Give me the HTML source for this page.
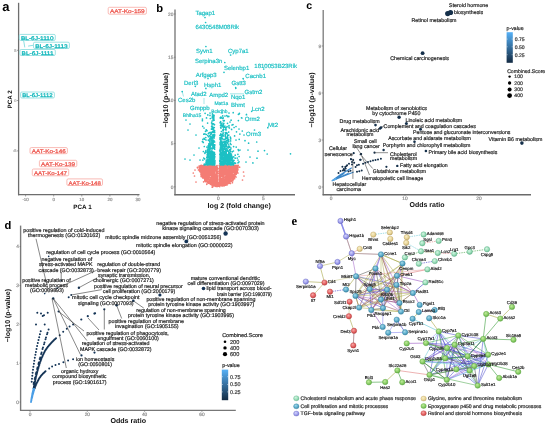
<!DOCTYPE html>
<html><head><meta charset="utf-8"><style>html,body{margin:0;padding:0;background:#fff;width:550px;height:426px;overflow:hidden}svg{display:block}text{font-family:"Liberation Sans",Arial,sans-serif;text-rendering:geometricPrecision}</style></head>
<body><svg width="550" height="426" viewBox="0 0 550 426">
<rect width="550" height="426" fill="#fff"/>
<text x="2.3" y="10.8" font-size="13" font-weight="bold" fill="#000">a</text>
<line x1="18.6" y1="2.8" x2="18.6" y2="195.3" stroke="#6e6e6e" stroke-width="1.3"/>
<line x1="18.0" y1="194.7" x2="139.5" y2="194.7" stroke="#6e6e6e" stroke-width="1.3"/>
<text x="16.4" y="51.7" font-size="3.9" text-anchor="end" fill="#a0a0a0" stroke="#a0a0a0" stroke-width="0.18">5</text>
<line x1="16.9" y1="50.3" x2="18.3" y2="50.3" stroke="#686868" stroke-width="0.6"/>
<text x="16.4" y="101.9" font-size="3.9" text-anchor="end" fill="#a0a0a0" stroke="#a0a0a0" stroke-width="0.18">0</text>
<line x1="16.9" y1="100.5" x2="18.3" y2="100.5" stroke="#686868" stroke-width="0.6"/>
<text x="16.4" y="152.3" font-size="3.9" text-anchor="end" fill="#a0a0a0" stroke="#a0a0a0" stroke-width="0.18">-5</text>
<line x1="16.9" y1="150.9" x2="18.3" y2="150.9" stroke="#686868" stroke-width="0.6"/>
<line x1="25.6" y1="195.0" x2="25.6" y2="196.5" stroke="#686868" stroke-width="0.6"/>
<text x="25.6" y="200.7" font-size="4.4" text-anchor="middle" fill="#8e8e8e" stroke="#8e8e8e" stroke-width="0.18">-10</text>
<line x1="53.7" y1="195.0" x2="53.7" y2="196.5" stroke="#686868" stroke-width="0.6"/>
<text x="53.7" y="200.7" font-size="4.4" text-anchor="middle" fill="#8e8e8e" stroke="#8e8e8e" stroke-width="0.18">0</text>
<line x1="81.8" y1="195.0" x2="81.8" y2="196.5" stroke="#686868" stroke-width="0.6"/>
<text x="81.8" y="200.7" font-size="4.4" text-anchor="middle" fill="#8e8e8e" stroke="#8e8e8e" stroke-width="0.18">10</text>
<line x1="109.9" y1="195.0" x2="109.9" y2="196.5" stroke="#686868" stroke-width="0.6"/>
<text x="109.9" y="200.7" font-size="4.4" text-anchor="middle" fill="#8e8e8e" stroke="#8e8e8e" stroke-width="0.18">20</text>
<line x1="138.0" y1="195.0" x2="138.0" y2="196.5" stroke="#686868" stroke-width="0.6"/>
<text x="138.0" y="200.7" font-size="4.4" text-anchor="middle" fill="#8e8e8e" stroke="#8e8e8e" stroke-width="0.18">30</text>
<text x="82.5" y="208.6" font-size="6.3" text-anchor="middle" font-weight="bold" fill="#111">PCA 1</text>
<text transform="translate(9.8,99.4) rotate(-90)" x="0" y="2.27" font-size="6.3" font-weight="bold" text-anchor="middle" fill="#111">PCA 2</text>
<line x1="23.7" y1="40.9" x2="24.8" y2="47.4" stroke="#1cc0c4" stroke-width="0.5"/>
<line x1="28.1" y1="46.1" x2="33.2" y2="45.3" stroke="#1cc0c4" stroke-width="0.5"/>
<rect x="19.3" y="34.4" width="36.0" height="6.0" rx="1.3" fill="#fff" stroke="#7fd8da" stroke-width="0.75"/>
<text x="21.0" y="39.6" font-size="5.4" fill="#14b8bc" stroke="#14b8bc" stroke-width="0.3" textLength="32.6" lengthAdjust="spacingAndGlyphs">BL-6J-1110</text>
<rect x="33.5" y="42.2" width="35.9" height="6.3" rx="1.3" fill="#fff" stroke="#7fd8da" stroke-width="0.75"/>
<text x="35.2" y="47.7" font-size="5.4" fill="#14b8bc" stroke="#14b8bc" stroke-width="0.3" textLength="32.5" lengthAdjust="spacingAndGlyphs">BL-6J-1113</text>
<rect x="19.9" y="49.5" width="35.4" height="6.0" rx="1.3" fill="#fff" stroke="#7fd8da" stroke-width="0.75"/>
<text x="21.6" y="54.7" font-size="5.4" fill="#14b8bc" stroke="#14b8bc" stroke-width="0.3" textLength="32.0" lengthAdjust="spacingAndGlyphs">BL-6J-1111</text>
<rect x="20.6" y="92.0" width="33.8" height="6.0" rx="1.3" fill="#fff" stroke="#7fd8da" stroke-width="0.75"/>
<text x="22.3" y="97.2" font-size="5.4" fill="#14b8bc" stroke="#14b8bc" stroke-width="0.3" textLength="30.4" lengthAdjust="spacingAndGlyphs">BL-6J-1112</text>
<rect x="30.0" y="147.6" width="37.4" height="6.1" rx="1.3" fill="#fff" stroke="#f7a49d" stroke-width="0.75"/>
<text x="31.7" y="152.9" font-size="5.4" fill="#ee5d55" stroke="#ee5d55" stroke-width="0.3" textLength="34.0" lengthAdjust="spacingAndGlyphs">AAT-Ko-146</text>
<rect x="39.4" y="160.3" width="37.4" height="6.4" rx="1.3" fill="#fff" stroke="#f7a49d" stroke-width="0.75"/>
<text x="41.1" y="165.9" font-size="5.4" fill="#ee5d55" stroke="#ee5d55" stroke-width="0.3" textLength="34.0" lengthAdjust="spacingAndGlyphs">AAT-Ko-139</text>
<rect x="32.3" y="169.0" width="36.4" height="6.8" rx="1.3" fill="#fff" stroke="#f7a49d" stroke-width="0.75"/>
<text x="34.0" y="175.0" font-size="5.4" fill="#ee5d55" stroke="#ee5d55" stroke-width="0.3" textLength="33.0" lengthAdjust="spacingAndGlyphs">AAT-Ko-147</text>
<rect x="66.9" y="178.9" width="35.6" height="6.6" rx="1.3" fill="#fff" stroke="#f7a49d" stroke-width="0.75"/>
<text x="68.6" y="184.7" font-size="5.4" fill="#ee5d55" stroke="#ee5d55" stroke-width="0.3" textLength="32.2" lengthAdjust="spacingAndGlyphs">AAT-Ko-148</text>
<rect x="108.2" y="7.3" width="38.2" height="6.9" rx="1.3" fill="#fff" stroke="#f7a49d" stroke-width="0.75"/>
<text x="109.9" y="13.4" font-size="5.4" fill="#ee5d55" stroke="#ee5d55" stroke-width="0.3" textLength="34.8" lengthAdjust="spacingAndGlyphs">AAT-Ko-159</text>
<text x="156.2" y="11.8" font-size="11.2" font-weight="bold" fill="#000">b</text>
<line x1="175.0" y1="9.5" x2="175.0" y2="195.3" stroke="#9a9a9a" stroke-width="1.8"/>
<line x1="174.3" y1="194.7" x2="295.0" y2="194.7" stroke="#6a6a6a" stroke-width="1.5"/>
<line x1="174.0" y1="186.8" x2="175.5" y2="186.8" stroke="#686868" stroke-width="0.6"/>
<text x="173.4" y="188.5" font-size="4.8" text-anchor="end" fill="#8c8c8c" stroke="#8c8c8c" stroke-width="0.18">0</text>
<line x1="174.0" y1="143.6" x2="175.5" y2="143.6" stroke="#686868" stroke-width="0.6"/>
<text x="173.4" y="145.3" font-size="4.8" text-anchor="end" fill="#8c8c8c" stroke="#8c8c8c" stroke-width="0.18">5</text>
<line x1="174.0" y1="100.4" x2="175.5" y2="100.4" stroke="#686868" stroke-width="0.6"/>
<text x="173.4" y="102.1" font-size="4.8" text-anchor="end" fill="#8c8c8c" stroke="#8c8c8c" stroke-width="0.18">10</text>
<line x1="174.0" y1="57.2" x2="175.5" y2="57.2" stroke="#686868" stroke-width="0.6"/>
<text x="173.4" y="58.9" font-size="4.8" text-anchor="end" fill="#8c8c8c" stroke="#8c8c8c" stroke-width="0.18">15</text>
<line x1="174.0" y1="14.0" x2="175.5" y2="14.0" stroke="#686868" stroke-width="0.6"/>
<text x="173.4" y="15.7" font-size="4.8" text-anchor="end" fill="#8c8c8c" stroke="#8c8c8c" stroke-width="0.18">20</text>
<line x1="218.3" y1="194.5" x2="218.3" y2="196.0" stroke="#686868" stroke-width="0.6"/>
<text x="218.3" y="200.4" font-size="4.8" text-anchor="middle" fill="#8c8c8c" stroke="#8c8c8c" stroke-width="0.18">0</text>
<line x1="263.3" y1="194.5" x2="263.3" y2="196.0" stroke="#686868" stroke-width="0.6"/>
<text x="263.3" y="200.4" font-size="4.8" text-anchor="middle" fill="#8c8c8c" stroke="#8c8c8c" stroke-width="0.18">5</text>
<text x="207.6" y="207.5" font-size="7" font-weight="bold" textLength="63.2" lengthAdjust="spacingAndGlyphs" fill="#111">log 2 (fold change)</text>
<text transform="translate(165.3,100.0) rotate(-90)" x="0" y="2.52" font-size="7" font-weight="bold" text-anchor="middle" textLength="55.0" lengthAdjust="spacingAndGlyphs" fill="#111">−log10 (p-value)</text>
<path d="M211.5 168.4h0M224.5 166.8h0M219.9 173.1h0M201.5 167.2h0M215.5 183.0h0M203.6 170.0h0M223.5 185.6h0M221.6 173.7h0M237.4 166.2h0M232.7 171.4h0M204.4 167.7h0M210.9 182.7h0M205.9 177.7h0M224.0 173.2h0M220.4 166.5h0M201.1 169.6h0M225.6 174.4h0M211.1 177.8h0M216.6 171.6h0M230.2 180.2h0M208.4 177.6h0M219.5 184.0h0M227.6 171.4h0M237.5 167.7h0M215.3 181.5h0M204.7 175.7h0M229.0 177.5h0M233.4 171.9h0M226.2 178.0h0M221.7 175.0h0M217.5 179.5h0M231.2 171.3h0M214.0 179.6h0M205.4 167.7h0M203.8 170.5h0M214.2 183.9h0M201.9 174.9h0M220.5 184.2h0M209.7 174.1h0M212.9 184.2h0M236.6 168.4h0M205.7 170.2h0M207.9 175.6h0M222.0 170.8h0M213.3 177.4h0M225.5 166.4h0M214.2 173.8h0M201.2 166.6h0M207.0 168.7h0M212.2 166.3h0M202.7 173.0h0M223.0 168.4h0M208.7 172.7h0M213.1 167.8h0M217.2 175.6h0M202.1 167.4h0M212.3 170.9h0M231.5 168.7h0M219.6 168.4h0M220.2 165.8h0M219.6 186.2h0M209.0 173.1h0M219.8 181.9h0M211.8 170.0h0M231.1 181.1h0M207.7 176.3h0M212.8 165.8h0M199.8 171.2h0M209.0 180.1h0M236.5 173.0h0M207.4 170.1h0M206.5 169.6h0M223.4 184.6h0M232.0 175.5h0M224.6 182.4h0M228.4 175.5h0M211.9 182.4h0M214.6 185.6h0M227.4 168.9h0M203.7 168.4h0M212.6 177.0h0M203.9 165.5h0M219.6 185.3h0M215.9 183.9h0M231.4 169.7h0M208.7 171.5h0M208.2 177.8h0M209.0 174.2h0M212.7 175.1h0M221.8 184.6h0M215.4 184.9h0M219.4 165.6h0M216.1 169.1h0M205.5 175.4h0M227.4 177.2h0M211.6 176.3h0M220.7 182.1h0M202.9 177.2h0M208.5 171.2h0M229.3 176.1h0M220.9 181.5h0M234.8 174.7h0M223.0 176.1h0M216.6 176.7h0M217.6 185.4h0M226.4 184.0h0M236.0 170.8h0M220.9 185.5h0M232.0 168.1h0M203.5 174.7h0M201.6 170.4h0M204.8 180.6h0M224.8 168.3h0M214.5 175.7h0M205.1 174.5h0M206.5 172.0h0M227.3 165.6h0M220.6 174.7h0M223.4 176.2h0M202.8 170.9h0M209.4 168.0h0M215.4 184.8h0M231.1 170.8h0M221.3 180.3h0M202.2 166.4h0M226.0 174.3h0M223.8 182.4h0M216.7 172.5h0M220.6 185.1h0M209.3 168.0h0M219.6 170.3h0M203.0 168.7h0M200.7 169.5h0M211.1 171.8h0M228.8 171.4h0M212.4 165.6h0M208.6 165.5h0M227.7 177.0h0M206.2 175.4h0M235.7 167.5h0M231.1 174.5h0M218.3 183.1h0M214.3 176.1h0M212.3 183.1h0M226.7 178.9h0M214.7 172.7h0M200.9 168.0h0M208.8 168.7h0M233.2 179.6h0M209.9 170.4h0M210.3 175.1h0M204.9 174.8h0M211.0 172.9h0M217.5 176.0h0M206.7 176.1h0M202.3 173.8h0M200.4 165.7h0M210.7 170.2h0M221.9 176.6h0M228.4 179.3h0M227.1 184.1h0M214.1 172.2h0M237.7 168.4h0M227.4 179.0h0M227.8 182.7h0M204.2 176.5h0M218.7 183.2h0M221.8 184.4h0M225.7 180.1h0M207.8 165.9h0M204.0 173.0h0M220.8 178.7h0M223.5 179.8h0M230.3 181.3h0M224.8 166.6h0M227.9 170.6h0M201.6 170.9h0M227.6 169.6h0M217.7 179.9h0M229.1 178.5h0M224.2 166.9h0M204.5 170.7h0M228.1 171.7h0M221.2 165.5h0M201.1 171.0h0M225.3 180.1h0M225.5 171.5h0M217.2 167.7h0M234.1 169.5h0M216.5 171.0h0M207.0 177.7h0M204.3 176.5h0M236.4 168.1h0M231.2 176.1h0M216.6 171.7h0M204.3 172.6h0M211.2 183.3h0M231.9 167.8h0M234.4 171.4h0M213.4 173.6h0M213.0 174.4h0M209.6 166.2h0M208.6 170.9h0M213.5 185.8h0M223.7 184.8h0M227.2 166.3h0M227.7 174.9h0M228.5 179.1h0M210.0 166.3h0M235.4 167.9h0M217.4 172.6h0M210.5 181.1h0M237.4 170.8h0M224.7 171.7h0M220.8 173.7h0M205.3 168.7h0M216.5 168.2h0M206.3 167.2h0M212.2 167.2h0M208.2 170.8h0M221.3 184.3h0M228.4 174.1h0M215.1 176.5h0M213.6 172.5h0M201.2 171.2h0M237.0 167.9h0M232.9 169.8h0M209.4 170.5h0M214.5 174.8h0M233.3 165.7h0M234.2 175.4h0M222.0 165.2h0M214.2 185.1h0M237.2 170.5h0M203.0 168.5h0M219.4 179.9h0M224.3 181.6h0M216.8 177.1h0M224.3 171.7h0M203.8 170.6h0M223.9 180.2h0M203.1 166.7h0M219.5 177.7h0M214.1 170.0h0M222.5 165.4h0M210.6 175.1h0M233.7 175.4h0M208.0 170.5h0M210.9 165.7h0M215.3 170.7h0M225.1 185.1h0M207.7 165.9h0M212.1 174.2h0M225.7 169.5h0M230.3 181.1h0M237.1 171.9h0M231.2 170.2h0M207.5 181.6h0M207.5 174.2h0M204.5 173.7h0M204.3 166.3h0M201.1 173.7h0M235.6 172.3h0M228.3 165.9h0M225.0 173.3h0M213.5 172.3h0M205.4 165.3h0M209.8 172.8h0M236.5 167.9h0M236.9 169.7h0M212.8 182.9h0M231.3 174.5h0M213.5 185.0h0M206.3 173.0h0M234.2 165.9h0M215.0 182.7h0M229.1 166.1h0M200.1 166.5h0M235.1 170.7h0M212.1 171.1h0M209.1 180.6h0M211.2 171.1h0M236.1 165.7h0M208.0 175.4h0M214.0 170.6h0M215.7 175.8h0M235.5 169.1h0M230.5 181.1h0M222.7 172.2h0M211.4 173.0h0M229.7 166.9h0M206.5 181.4h0M208.5 166.6h0M209.2 167.0h0M202.5 175.9h0M226.8 174.8h0M208.0 174.2h0M223.3 179.7h0M228.3 183.4h0M225.0 167.8h0M232.0 171.5h0M221.1 173.2h0M227.9 169.5h0M208.5 170.5h0M221.6 172.2h0M230.7 179.2h0M237.9 167.4h0M217.5 182.8h0M200.3 171.5h0M203.4 169.3h0M235.5 173.2h0M233.0 174.9h0M209.0 181.9h0M236.1 167.5h0M222.3 178.5h0M207.3 173.1h0M204.3 169.6h0M208.8 178.1h0M224.5 169.6h0M225.6 169.2h0M211.1 169.6h0M230.2 177.0h0M201.2 167.4h0M214.4 177.0h0M224.0 167.2h0M205.2 180.2h0M214.9 171.3h0M211.1 177.4h0M212.8 174.2h0M213.1 169.4h0M227.5 169.6h0M215.5 182.8h0M214.8 184.2h0M217.0 168.7h0M224.1 184.8h0M213.4 176.0h0M204.5 171.3h0M219.3 185.1h0M203.0 175.7h0M206.5 167.9h0M235.4 173.5h0M231.4 168.6h0M229.8 170.0h0M214.7 183.4h0M231.5 169.1h0M207.3 173.8h0M219.2 173.4h0M203.6 170.5h0M228.7 166.0h0M231.9 167.7h0M222.4 177.0h0M223.5 171.8h0M215.3 177.7h0M215.6 179.4h0M216.4 174.6h0M228.9 182.0h0M216.8 169.1h0M217.4 167.5h0M203.8 174.5h0M202.3 174.7h0M223.9 167.0h0M227.7 181.9h0M236.4 168.1h0M227.7 182.7h0M218.2 185.8h0M235.0 168.7h0M201.3 172.7h0M228.6 168.6h0M234.2 171.1h0M231.0 168.3h0M218.6 185.0h0M206.9 170.9h0M200.2 169.1h0M225.6 184.5h0M203.3 176.6h0M223.9 172.9h0M233.3 177.1h0M221.7 184.2h0M223.6 173.7h0M230.3 170.9h0M213.0 181.6h0M216.2 169.0h0M228.1 166.2h0M231.2 170.7h0M221.9 179.5h0M211.1 165.2h0M200.0 168.4h0M223.1 174.5h0M219.0 184.5h0M203.9 170.1h0M224.6 165.7h0M202.9 172.9h0M207.6 177.7h0M222.0 169.6h0M223.4 175.4h0M208.3 168.4h0M214.6 170.9h0M221.0 172.7h0M224.3 174.7h0M214.8 170.3h0M236.0 168.3h0M206.6 178.3h0M230.9 169.0h0M211.0 171.7h0M229.7 180.6h0M228.2 175.2h0M228.1 174.9h0M207.6 167.5h0M207.9 166.0h0M212.0 181.3h0M226.2 183.4h0M226.9 170.9h0M220.6 174.6h0M229.9 176.4h0M209.2 179.0h0M236.9 169.9h0M233.5 165.5h0M209.0 170.3h0M228.2 172.2h0M233.6 172.3h0M223.7 180.1h0M217.3 183.3h0M226.3 183.6h0M216.0 180.8h0M221.3 171.8h0M207.1 178.6h0M204.4 165.8h0M212.4 168.2h0M199.8 166.1h0M226.1 178.8h0M226.3 181.0h0M213.1 182.8h0M202.9 169.6h0M203.1 165.9h0M223.8 182.9h0M223.7 171.4h0M202.7 167.3h0M228.7 169.6h0M211.3 174.3h0M199.5 170.7h0M209.9 180.6h0M213.3 172.1h0M232.4 178.5h0M216.0 181.8h0M212.4 180.4h0M220.0 169.9h0M232.8 167.2h0M231.2 168.9h0M218.2 182.3h0M206.0 175.8h0M212.4 183.1h0M209.9 169.8h0M226.4 175.9h0M226.3 182.1h0M223.6 172.8h0M214.6 173.7h0M234.0 167.1h0M233.9 165.7h0M206.9 170.9h0M234.4 176.0h0M213.7 184.2h0M207.9 175.1h0M219.7 181.4h0M228.5 179.1h0M212.5 172.2h0M224.9 181.2h0M205.4 174.6h0M229.3 177.7h0M203.7 175.1h0M233.8 170.3h0M206.3 171.7h0M226.5 183.3h0M204.8 168.6h0M208.5 172.2h0M219.4 168.7h0M211.7 169.3h0M202.7 173.5h0M227.7 174.6h0M206.5 178.9h0M202.9 169.6h0M214.1 165.9h0M214.5 182.2h0M226.2 176.0h0M223.7 175.2h0M204.3 178.2h0M214.7 181.1h0M234.7 174.4h0M221.4 181.3h0M215.4 170.1h0M227.3 184.1h0M229.4 180.3h0M232.5 179.8h0M224.1 175.0h0M211.1 178.7h0M202.6 174.2h0M229.7 180.5h0M223.6 170.6h0M215.5 175.0h0M223.3 174.0h0M225.4 185.2h0M205.9 179.3h0M229.5 173.6h0M218.1 186.2h0M202.7 177.6h0M220.1 180.6h0M231.5 176.4h0M214.9 185.6h0M207.0 179.9h0M214.2 181.6h0M212.8 166.4h0M209.6 173.8h0M215.4 180.2h0M212.6 170.9h0M207.6 181.1h0M207.4 182.4h0M214.2 169.8h0M230.8 178.8h0M217.3 177.3h0M212.7 178.9h0M217.2 171.5h0M220.4 167.9h0M231.7 172.8h0M232.4 170.9h0M213.6 170.7h0M215.6 169.2h0M209.8 170.5h0M210.7 175.5h0M215.7 178.9h0M224.8 173.0h0M223.8 165.5h0M224.7 170.6h0M202.7 168.3h0M208.0 181.9h0M212.4 168.5h0M222.8 182.0h0M225.2 184.4h0M206.5 180.1h0M219.7 181.2h0M216.1 184.2h0M220.7 170.9h0M208.0 168.2h0M217.2 168.3h0M220.1 183.8h0M217.2 177.3h0M225.0 183.3h0M213.5 174.2h0M236.7 166.8h0M223.9 178.9h0M234.2 165.9h0M227.1 178.6h0M212.1 183.7h0M213.2 175.4h0M219.5 181.8h0M207.0 174.6h0M215.4 177.1h0M231.4 171.5h0M231.5 173.9h0M218.8 186.2h0M224.6 182.2h0M211.8 172.0h0M210.5 177.8h0M223.8 182.1h0M233.8 176.9h0M200.7 171.7h0M224.8 182.2h0M223.1 178.7h0M226.3 178.0h0M225.7 169.8h0M225.1 175.0h0M228.9 167.4h0M205.9 166.0h0M224.7 173.1h0M221.0 170.7h0M210.7 174.3h0M211.3 174.5h0M224.1 185.3h0M200.3 167.8h0M230.8 177.6h0M235.1 174.8h0M222.1 185.4h0M215.0 167.4h0M224.2 169.8h0M204.7 165.5h0M203.8 165.6h0M227.2 170.4h0M227.7 169.2h0M227.0 183.6h0M227.6 167.0h0M223.6 180.4h0M216.9 185.2h0M227.1 165.4h0M231.1 166.9h0M211.0 180.9h0M213.3 177.6h0M216.1 179.8h0M213.1 179.1h0M223.6 174.2h0M214.0 182.1h0M221.1 171.5h0M226.5 183.0h0M211.8 178.2h0M222.5 171.8h0M215.7 184.3h0M213.6 179.9h0M222.5 184.5h0M230.7 171.3h0M215.4 177.8h0M221.3 171.1h0M225.8 184.8h0M212.4 167.0h0M220.6 182.3h0M206.6 181.3h0M235.6 170.2h0M222.7 179.8h0M217.1 169.6h0M208.8 181.3h0M230.0 175.1h0M229.3 170.2h0M221.7 184.5h0M233.7 176.4h0M217.6 177.9h0M206.2 169.3h0M205.9 180.3h0M213.1 177.3h0M214.6 176.3h0M204.6 166.2h0M229.9 168.6h0M222.3 172.6h0M219.3 165.6h0M233.0 175.7h0M221.2 170.8h0M229.6 174.4h0M208.8 166.0h0M206.7 169.1h0M202.0 166.3h0M220.8 183.9h0M216.8 185.6h0M234.7 166.6h0M222.4 173.7h0M208.9 177.3h0M224.1 185.8h0M225.2 173.7h0M216.5 168.6h0M207.5 166.0h0M208.8 172.8h0M231.9 166.2h0M229.8 180.5h0M200.9 168.3h0M225.5 171.6h0M222.1 181.5h0M202.9 172.2h0M208.9 167.9h0M217.8 168.8h0M208.1 168.3h0M225.5 165.5h0M227.1 169.4h0M204.2 174.8h0M232.1 178.7h0M216.6 172.5h0M231.3 175.5h0M223.6 168.3h0M207.5 166.4h0M227.0 177.1h0M209.2 174.1h0M204.9 171.0h0M231.9 172.4h0M205.3 175.8h0M211.3 184.6h0M225.2 169.7h0M217.6 171.4h0M208.9 169.5h0M202.6 171.4h0M234.2 166.4h0M227.5 171.5h0M237.5 165.5h0M230.7 172.5h0M204.2 165.2h0M231.7 176.5h0M206.1 174.6h0M234.8 169.9h0M221.3 168.2h0M226.9 169.4h0M201.8 167.1h0M222.8 175.9h0M209.5 169.6h0M223.0 180.4h0M230.8 177.7h0M206.7 166.6h0M227.7 174.0h0M227.3 166.4h0M230.8 172.4h0M234.7 175.4h0M233.2 170.9h0M213.2 168.7h0M213.4 178.0h0M216.4 176.3h0M211.4 180.5h0M213.8 181.4h0M220.0 165.6h0M237.0 170.0h0M205.9 167.4h0M208.6 182.8h0M199.9 167.3h0M226.4 169.4h0M221.5 176.4h0M226.5 167.4h0M200.5 167.8h0M209.8 167.8h0M214.8 168.1h0M222.1 183.7h0M204.5 177.5h0M228.3 168.7h0M214.1 174.2h0M232.0 176.5h0M214.4 185.4h0M229.5 172.5h0M208.2 172.4h0M215.9 186.3h0M208.6 174.3h0M223.8 173.0h0M219.7 166.7h0M215.8 176.1h0M199.5 168.2h0M233.7 165.9h0M224.1 170.9h0M225.6 171.1h0M220.2 185.1h0M223.3 170.6h0M219.3 174.5h0M236.4 171.4h0M210.8 179.1h0M203.5 178.0h0M209.3 175.2h0M219.8 168.4h0M203.6 168.0h0M210.3 173.9h0M210.1 170.4h0M202.2 176.9h0M232.0 178.3h0M221.3 179.2h0M206.7 180.5h0M217.0 177.0h0M223.0 175.3h0M211.0 170.4h0M207.5 176.2h0M213.9 177.8h0M232.8 170.3h0M220.7 175.8h0M210.4 181.8h0M205.0 166.6h0M233.2 174.7h0M201.2 173.5h0M216.1 181.0h0M203.0 170.0h0M204.8 172.4h0M212.7 179.7h0M223.1 183.5h0M231.2 176.3h0M228.0 181.2h0M228.8 175.4h0M229.8 180.4h0M234.9 167.9h0M233.2 165.3h0M229.0 177.8h0M218.4 185.9h0M221.3 174.2h0M222.8 173.4h0M216.6 175.0h0M227.3 171.5h0M214.2 177.1h0M213.9 172.1h0M206.0 171.7h0M204.4 177.6h0M221.7 167.1h0M235.1 172.2h0M236.7 169.6h0M215.6 184.8h0M199.1 166.2h0M221.1 175.9h0M225.8 173.6h0M212.9 178.0h0M212.6 185.6h0M225.5 176.5h0M202.6 173.2h0M214.6 177.3h0M221.4 184.1h0M216.1 178.6h0M219.7 182.7h0M205.5 172.0h0M233.9 174.2h0M204.9 171.4h0M206.1 169.1h0M223.7 178.2h0M223.9 166.1h0M215.0 182.1h0M210.8 180.1h0M232.0 177.8h0M225.2 169.4h0M209.2 179.1h0M219.7 186.6h0M221.4 174.0h0M203.5 168.6h0M228.8 167.5h0M202.7 168.9h0M219.4 182.9h0M223.0 182.5h0M201.2 165.5h0M229.2 172.1h0M227.0 172.8h0M205.4 170.9h0M221.8 172.7h0M216.5 173.5h0M221.8 185.8h0M216.1 178.5h0M208.6 166.1h0M211.2 184.5h0M231.0 171.7h0M222.6 185.8h0M218.3 185.6h0M208.3 173.6h0M227.2 170.0h0M210.9 184.0h0M217.9 182.2h0M208.3 168.9h0M212.9 169.2h0M237.2 171.5h0M220.9 167.7h0M219.8 173.5h0M214.7 166.6h0M212.6 170.5h0M206.3 171.3h0M208.1 166.0h0M225.0 172.5h0M204.9 180.4h0M202.4 171.0h0M231.8 167.9h0M216.3 183.2h0M230.6 168.6h0M212.7 180.7h0M213.6 185.8h0M216.6 168.0h0M226.7 170.8h0M234.3 177.8h0M213.3 170.5h0M222.8 169.8h0M233.2 167.8h0M209.4 181.8h0M213.9 179.3h0M221.2 171.9h0M214.1 167.0h0M211.4 179.4h0M203.0 177.3h0M213.0 176.0h0M210.5 166.6h0M211.0 170.1h0M209.9 173.9h0M203.9 171.1h0M225.0 172.8h0M215.0 179.4h0M226.4 170.5h0M232.2 172.8h0M223.6 169.1h0M227.8 180.5h0M200.3 166.1h0M205.1 169.5h0M210.7 173.4h0M200.3 171.9h0M224.0 169.1h0M231.9 177.5h0M227.1 170.7h0M215.9 179.9h0M212.5 165.2h0M210.0 166.1h0M232.5 178.3h0M200.6 170.5h0M228.4 167.1h0M226.2 173.7h0M228.3 183.0h0M209.8 167.1h0M236.2 174.3h0M227.9 183.0h0M223.6 174.9h0M215.7 176.2h0M235.5 167.9h0M228.9 166.1h0M226.5 182.5h0M209.0 176.9h0M220.2 170.6h0M201.1 172.9h0M215.0 169.5h0M211.0 168.1h0M226.7 179.6h0M208.1 170.4h0M235.8 172.8h0M210.6 184.2h0M204.3 177.3h0M211.9 182.7h0M220.4 181.6h0M205.4 179.5h0M222.4 175.1h0M229.0 183.1h0M203.2 171.4h0M213.0 169.6h0M201.1 171.2h0M206.5 180.3h0M216.4 167.6h0M211.5 175.3h0M213.1 168.8h0M201.5 165.4h0M203.0 175.7h0M215.9 169.3h0M220.2 165.4h0M223.6 185.3h0M224.5 170.6h0M208.4 168.2h0M231.9 171.6h0M206.1 178.9h0M231.6 181.2h0M211.6 169.2h0M231.4 172.1h0M213.3 177.0h0M213.3 183.1h0M208.2 166.1h0M221.1 178.7h0M231.2 180.4h0M204.9 171.6h0M221.7 166.9h0M225.9 168.7h0M216.3 186.1h0M202.3 166.1h0M216.1 169.3h0M227.3 165.3h0M229.9 174.3h0M209.9 179.4h0M212.1 174.6h0M225.1 183.0h0M234.5 168.7h0M210.4 174.7h0M221.0 172.7h0M206.4 167.0h0M211.5 175.1h0M230.8 166.5h0M225.5 178.3h0M210.5 177.5h0M224.3 171.6h0M212.3 184.2h0M199.8 169.3h0M225.6 174.8h0M213.4 177.7h0M215.2 176.6h0M221.1 173.7h0M203.2 169.1h0M233.9 177.0h0M208.7 167.2h0M219.7 170.6h0M207.7 177.5h0M203.2 176.2h0M222.0 166.9h0M214.9 166.8h0M216.1 183.8h0M220.5 180.6h0M228.7 167.7h0M214.2 168.9h0M229.4 168.1h0M229.4 166.4h0M208.1 173.2h0M207.1 171.6h0M226.7 174.4h0M233.9 178.6h0M233.2 177.3h0M205.4 181.2h0M212.2 181.6h0M225.6 183.0h0M203.6 173.2h0M227.3 166.1h0M222.6 167.3h0M220.4 182.5h0M225.4 170.7h0M206.3 174.8h0M231.9 177.7h0M203.2 165.7h0M206.0 177.1h0M210.2 180.0h0M213.8 168.3h0M233.4 176.8h0M226.0 182.6h0M236.3 165.5h0M212.3 168.4h0M218.6 184.0h0M230.4 166.0h0M225.6 173.6h0M217.5 168.6h0M232.2 173.7h0M233.3 178.3h0M201.7 172.3h0M222.0 166.1h0M205.4 173.0h0M217.2 177.6h0M214.1 172.8h0M211.9 165.6h0M216.9 186.4h0M200.5 168.3h0M225.3 171.1h0M209.5 176.0h0M209.1 177.4h0M219.6 185.8h0M238.0 165.9h0M220.9 181.8h0M223.8 178.8h0M213.1 171.3h0M210.7 181.6h0M228.0 176.1h0M223.9 172.7h0M220.5 173.9h0M201.1 172.5h0M217.8 173.1h0M208.3 170.2h0M212.5 168.1h0M216.6 174.8h0M221.2 171.7h0M205.4 166.6h0M210.6 171.8h0M227.5 177.1h0M235.8 172.5h0M201.9 169.0h0M212.8 181.9h0M215.7 183.9h0M201.4 175.6h0M234.3 171.1h0M208.9 165.7h0M205.2 171.0h0M226.6 169.9h0M214.5 169.5h0M222.6 183.8h0M224.4 169.4h0M222.5 166.9h0M212.2 168.1h0M206.2 176.7h0M233.4 179.0h0M235.2 169.8h0M211.6 181.3h0M224.4 173.9h0M225.6 172.5h0M201.0 174.1h0M211.9 175.8h0M222.4 170.7h0M217.0 165.5h0M237.8 166.4h0M223.0 180.8h0M211.7 167.2h0M204.9 168.3h0M229.1 167.1h0M230.9 174.3h0M220.0 177.9h0M220.7 179.3h0M222.5 172.3h0M228.0 170.7h0M226.9 181.6h0M229.4 171.8h0M216.6 171.2h0M219.4 185.4h0M203.9 165.4h0M217.5 179.3h0M229.4 173.0h0M228.7 167.1h0M199.8 168.1h0M220.7 169.1h0M235.9 173.1h0M204.6 169.0h0M205.1 165.8h0M229.5 170.4h0M223.9 172.6h0M230.4 175.1h0M211.5 184.6h0M214.6 183.8h0M214.9 185.0h0M207.6 170.6h0M209.1 174.5h0M207.9 169.6h0M228.8 179.0h0M207.3 177.4h0M233.1 170.9h0M228.5 182.9h0M209.9 172.3h0M217.9 184.4h0M205.1 179.9h0M222.4 174.9h0M221.6 184.2h0M213.0 182.0h0M232.9 169.1h0M210.5 165.7h0M202.6 168.8h0M225.7 167.1h0M212.1 184.9h0M227.1 184.2h0M237.5 165.9h0M208.0 182.2h0M226.0 166.0h0M215.7 167.5h0M211.2 184.1h0M203.5 175.7h0M204.1 174.4h0M205.8 179.9h0M212.7 175.9h0M235.1 172.7h0M209.5 169.0h0M209.2 166.7h0M214.9 177.2h0M213.1 165.4h0M226.0 179.2h0M220.2 177.0h0M214.5 172.0h0M215.3 186.1h0M214.0 173.5h0M214.9 168.3h0M238.2 165.3h0M222.8 185.1h0M208.8 178.3h0M213.6 170.4h0M206.6 167.7h0M234.7 166.3h0M226.2 172.2h0M224.3 177.0h0M232.5 176.2h0M208.0 178.7h0M228.1 173.3h0M226.9 173.7h0M219.5 178.4h0M225.5 172.1h0M223.6 176.9h0M207.5 178.4h0M217.4 180.7h0M219.4 175.4h0M207.5 168.3h0M219.4 176.5h0M230.9 170.3h0M216.9 179.0h0M233.1 166.1h0M213.8 183.1h0M231.1 167.8h0M204.8 170.6h0M202.8 172.9h0M230.5 176.4h0M216.6 167.1h0M226.2 174.9h0M217.6 182.4h0M228.7 168.4h0M225.6 173.1h0M219.3 170.3h0M213.4 172.5h0M213.8 165.6h0M206.7 177.5h0M201.0 169.0h0M227.1 171.1h0M211.5 170.4h0M231.7 167.2h0M223.9 183.7h0M206.7 174.3h0M230.1 178.5h0M213.4 166.1h0M216.2 173.1h0M226.9 171.5h0M214.9 179.1h0M230.8 172.8h0M214.0 177.6h0M235.3 169.3h0M213.4 179.5h0M211.7 166.7h0M228.6 173.4h0M219.5 175.9h0M217.0 175.1h0M231.9 174.1h0M217.5 184.3h0M216.1 175.8h0M219.0 182.9h0M225.2 181.1h0M214.6 166.1h0M225.6 177.1h0M229.2 181.8h0M203.4 169.9h0M202.7 167.1h0M228.5 177.3h0M226.9 175.6h0M215.2 177.8h0M233.2 168.3h0M211.9 176.3h0M209.6 170.8h0M211.1 170.7h0M232.7 177.1h0M200.7 171.7h0M232.6 170.7h0M206.7 166.3h0M220.0 173.2h0M217.1 175.7h0M221.8 173.1h0M230.4 169.5h0M200.7 172.0h0M219.8 174.0h0M221.1 172.2h0M209.5 182.3h0M210.2 180.5h0M230.5 177.9h0M216.7 185.3h0M216.3 184.1h0M201.0 174.5h0M224.0 166.3h0M232.9 166.7h0M222.3 169.1h0M230.4 175.9h0M225.4 179.7h0M210.4 169.7h0M231.9 168.3h0M235.0 169.6h0M202.7 167.2h0M215.1 179.4h0M225.9 168.5h0M210.3 170.2h0M221.7 172.1h0M220.9 168.5h0M234.8 172.2h0M232.0 168.5h0M214.2 165.9h0M213.7 179.0h0M207.5 176.9h0M202.4 175.2h0M227.5 174.4h0M225.6 167.7h0M231.5 167.8h0M210.2 172.7h0M228.4 175.9h0M235.5 167.2h0M217.9 183.8h0M222.4 176.8h0M202.2 168.2h0M232.2 170.1h0M235.3 165.9h0M222.4 186.0h0M212.3 185.5h0M224.7 166.3h0M211.9 174.9h0M208.5 181.2h0M210.5 166.7h0M220.8 167.3h0M220.5 182.1h0M222.3 175.1h0M203.9 177.6h0M212.7 173.3h0M225.0 168.7h0M211.8 183.3h0M233.3 175.5h0M204.6 167.2h0M233.5 167.7h0M203.4 175.3h0M205.2 176.7h0M206.5 173.9h0M206.8 167.9h0M218.6 184.3h0M218.0 182.2h0M221.3 180.0h0M207.8 181.3h0M204.8 170.9h0M219.2 171.5h0M234.0 167.0h0M221.6 170.2h0M222.3 182.1h0M226.8 166.5h0M208.4 178.1h0M237.6 166.1h0M223.2 180.1h0M231.0 172.6h0M230.8 175.1h0M235.2 165.4h0M235.9 174.1h0M214.8 167.1h0M208.4 181.0h0M225.6 168.5h0M212.3 168.2h0M206.5 169.9h0M217.7 175.9h0M228.5 178.9h0M206.6 178.6h0M212.5 168.7h0M228.2 168.1h0M222.1 174.6h0M233.2 171.6h0M236.2 167.7h0M208.7 183.2h0M207.9 169.5h0M216.8 170.3h0M218.2 184.7h0M225.8 180.5h0M214.2 182.1h0M230.1 179.9h0M214.8 167.1h0M224.5 183.2h0M212.1 178.0h0M199.3 167.6h0M230.9 174.2h0M222.6 175.0h0M212.0 169.8h0M212.7 183.4h0M223.2 171.5h0M202.2 171.0h0M226.5 174.7h0M224.9 182.6h0M206.0 171.0h0M236.6 173.0h0M222.9 184.4h0M214.3 175.9h0M237.8 169.3h0M231.6 168.7h0M219.6 165.2h0M216.7 182.6h0M208.6 172.8h0M202.7 177.1h0M232.8 176.2h0M213.6 185.2h0M216.3 185.8h0M213.0 179.4h0M223.7 173.3h0M219.4 179.7h0M234.6 175.9h0M225.8 177.2h0M216.4 181.3h0M228.4 166.0h0M211.6 168.1h0M204.4 177.8h0M221.5 166.2h0M214.2 181.3h0M224.1 171.2h0M228.9 171.5h0M220.3 174.2h0M230.6 179.7h0M213.8 185.9h0M226.8 180.1h0M209.7 168.7h0M221.5 183.0h0M230.1 172.7h0M204.2 176.3h0M233.4 168.7h0M227.9 168.9h0M211.1 166.4h0M210.5 173.4h0M206.1 171.9h0M236.1 169.4h0M211.4 174.6h0M203.0 170.8h0M214.3 173.5h0M236.9 170.9h0M216.5 183.2h0M223.9 181.9h0M211.2 168.5h0M228.7 175.3h0M220.8 179.6h0M228.5 171.1h0M213.1 184.9h0M219.7 171.4h0M223.7 170.8h0M229.2 166.1h0M231.4 177.4h0M212.7 185.4h0M209.2 170.4h0M228.5 179.8h0M215.0 182.6h0M203.1 171.8h0M223.8 180.1h0M229.4 173.7h0M212.2 173.6h0M230.6 172.7h0M219.8 176.4h0M225.2 184.6h0M204.0 172.5h0M201.3 174.1h0M218.6 183.5h0M225.1 177.6h0M214.7 177.5h0M209.5 183.4h0M204.7 179.6h0M228.6 176.0h0M228.1 182.9h0M224.4 184.1h0M226.6 178.4h0M209.6 166.6h0M222.6 182.9h0M209.5 169.8h0M207.6 167.2h0M230.5 172.9h0M226.4 166.8h0M231.9 172.2h0M204.2 171.1h0M201.0 174.8h0M220.7 182.6h0M203.1 170.0h0M223.6 172.5h0M211.8 177.4h0M207.3 182.3h0M230.7 176.7h0M215.5 166.6h0M223.6 180.8h0M221.9 173.8h0M236.8 172.3h0M237.8 166.7h0M217.6 168.1h0M216.7 179.9h0M226.8 175.0h0M212.2 169.3h0M214.7 171.3h0M206.4 181.0h0M206.5 180.3h0M206.5 170.9h0M220.9 180.3h0M227.3 180.7h0M201.2 169.6h0M227.3 178.7h0M209.1 172.8h0M205.2 178.8h0M200.5 169.0h0M212.8 184.5h0M230.6 175.0h0M202.7 167.5h0M217.4 186.5h0M217.6 182.9h0M203.8 167.5h0M221.0 176.1h0M207.0 170.6h0M227.7 173.5h0M204.0 165.5h0M207.2 177.8h0M213.7 165.4h0M217.1 166.1h0M233.9 176.7h0M201.5 172.2h0M223.4 184.2h0M206.8 170.4h0M234.6 173.4h0M202.8 177.9h0M203.7 169.5h0M216.8 177.8h0M223.9 180.4h0M216.1 166.7h0M227.4 166.4h0M217.3 173.8h0M225.3 180.5h0M208.2 179.2h0M226.1 175.3h0M222.4 166.5h0M207.8 173.6h0M223.8 181.1h0M200.2 167.2h0M200.2 166.2h0M207.4 179.6h0M235.1 170.9h0M204.8 165.6h0M228.7 167.4h0M205.1 176.2h0M220.7 182.9h0M222.2 182.4h0M201.8 166.4h0M220.3 171.5h0M214.4 165.4h0M228.2 165.7h0M216.8 167.8h0M224.4 169.7h0M215.7 167.6h0M212.7 167.2h0M227.6 183.5h0M232.3 167.4h0M213.3 171.7h0M228.9 168.4h0M229.1 165.3h0M201.7 167.6h0M226.1 178.1h0M219.3 175.0h0M214.8 178.3h0M224.4 184.9h0M227.7 182.3h0M227.1 165.9h0M225.7 183.5h0M215.8 184.1h0M216.2 180.4h0M208.7 171.7h0M212.5 172.2h0M202.5 174.7h0M228.5 171.1h0M208.6 174.1h0M199.5 170.2h0M211.7 181.8h0M230.2 176.6h0M211.1 178.7h0M213.2 176.8h0M236.9 168.7h0M219.7 179.2h0M220.0 185.4h0M214.8 184.8h0M202.2 169.8h0M236.1 177.0h0M206.8 184.3h0M203.6 181.8h0M232.9 180.7h0M239.6 167.2h0M234.6 178.7h0M197.6 167.8h0M212.5 187.2h0M212.1 187.1h0M230.0 182.9h0M237.9 169.7h0M227.0 185.0h0M238.0 173.0h0M197.4 167.4h0M232.4 182.7h0M235.5 176.7h0M230.4 183.4h0M206.9 183.8h0M205.4 181.6h0M198.5 169.9h0M201.3 176.0h0M201.1 176.5h0M193.3 173.0h0M194.5 176.0h0M195.0 170.0h0M243.5 172.0h0M244.0 176.0h0M242.5 180.0h0M196.0 182.0h0" stroke="#f47c74" stroke-width="1.7" stroke-linecap="round" fill="none"/>
<path d="M222.1 136.0h0M207.5 164.9h0M221.7 148.9h0M210.4 162.7h0M220.4 149.2h0M233.4 164.8h0M229.8 158.2h0M207.1 160.7h0M224.8 160.7h0M210.0 143.3h0M210.5 157.7h0M214.0 134.4h0M207.1 161.0h0M221.1 155.8h0M210.4 155.2h0M210.1 163.1h0M221.1 123.6h0M231.0 144.5h0M212.5 135.7h0M208.6 160.9h0M211.0 163.7h0M210.4 145.3h0M221.3 161.6h0M212.1 155.1h0M212.9 154.2h0M211.8 153.4h0M214.6 149.2h0M228.7 144.8h0M214.1 162.0h0M209.8 163.7h0M212.1 162.7h0M211.6 122.9h0M213.3 120.5h0M223.3 120.6h0M233.2 161.3h0M210.1 155.9h0M206.8 157.2h0M203.7 158.0h0M211.7 151.0h0M209.0 146.3h0M213.5 116.6h0M222.4 151.9h0M225.3 162.3h0M228.7 132.1h0M220.3 160.3h0M212.0 128.1h0M223.8 159.9h0M226.2 153.7h0M212.2 154.2h0M232.2 151.8h0M212.0 161.8h0M222.9 162.0h0M220.6 158.2h0M226.4 144.7h0M212.9 140.9h0M229.6 146.5h0M214.6 141.9h0M214.4 161.5h0M228.6 161.0h0M210.0 143.2h0M209.7 160.4h0M214.5 156.8h0M211.3 152.1h0M228.9 162.1h0M213.5 162.4h0M225.8 137.9h0M223.1 161.7h0M228.0 139.1h0M211.4 151.7h0M208.3 145.6h0M222.8 162.1h0M219.8 160.4h0M221.0 163.2h0M225.1 158.9h0M207.6 155.2h0M212.2 162.3h0M222.9 160.4h0M212.2 154.8h0M209.2 164.2h0M213.8 146.1h0M229.6 163.5h0M220.6 140.6h0M221.8 148.7h0M209.2 151.9h0M229.4 160.5h0M223.8 164.5h0M229.7 149.7h0M208.3 161.6h0M213.9 162.4h0M222.2 146.1h0M227.7 159.3h0M207.1 163.6h0M221.0 124.7h0M224.7 163.1h0M220.5 146.1h0M208.0 163.9h0M211.2 148.4h0M224.3 146.3h0M220.5 125.6h0M220.1 155.9h0M213.2 128.9h0M213.5 159.7h0M207.5 156.4h0M214.1 115.3h0M207.3 162.8h0M221.8 153.6h0M221.0 143.3h0M223.1 160.8h0M223.6 144.8h0M221.9 118.0h0M221.7 146.1h0M212.4 117.4h0M214.9 160.7h0M222.0 162.6h0M211.1 144.5h0M219.9 139.1h0M230.4 143.4h0M222.1 159.1h0M209.7 158.2h0M210.6 163.2h0M221.7 149.8h0M224.7 127.2h0M226.2 143.9h0M226.6 157.8h0M230.7 158.8h0M227.5 136.8h0M220.2 144.5h0M222.4 134.4h0M221.3 142.1h0M209.2 158.8h0M220.6 164.6h0M226.2 163.9h0M222.5 157.3h0M229.7 150.0h0M212.5 145.2h0M225.1 163.3h0M212.9 155.1h0M214.6 161.5h0M206.9 147.1h0M223.5 151.6h0M229.4 163.5h0M213.7 158.4h0M224.0 161.3h0M221.5 157.8h0M208.3 159.6h0M221.4 153.1h0M223.2 117.9h0M230.1 162.0h0M210.5 134.6h0M232.1 164.6h0M222.7 118.5h0M223.9 162.7h0M210.6 151.2h0M219.8 154.2h0M221.8 158.8h0M227.7 160.6h0M213.6 129.8h0M221.8 144.3h0M227.7 137.7h0M213.3 156.2h0M212.4 148.0h0M222.2 158.9h0M208.6 162.4h0M207.6 162.4h0M226.0 159.3h0M231.5 156.3h0M208.0 155.4h0M214.8 162.2h0M209.5 157.3h0M213.9 147.4h0M213.3 152.3h0M223.5 158.4h0M212.2 156.5h0M223.4 145.1h0M225.3 136.4h0M224.9 158.8h0M213.7 162.0h0M210.2 164.6h0M226.5 158.2h0M221.8 125.2h0M222.0 157.7h0M214.2 158.1h0M213.5 153.4h0M222.3 162.4h0M222.8 164.1h0M213.1 164.1h0M225.8 128.8h0M222.3 163.6h0M220.7 144.3h0M227.2 134.1h0M205.8 164.4h0M221.4 146.5h0M232.9 162.0h0M224.7 158.3h0M214.9 160.6h0M209.2 146.6h0M226.5 158.5h0M213.4 147.9h0M225.4 152.1h0M214.1 158.8h0M221.0 128.1h0M229.9 157.7h0M227.2 141.9h0M228.9 157.0h0M231.9 157.1h0M209.5 150.7h0M226.0 129.9h0M210.1 147.5h0M211.8 150.8h0M232.0 160.2h0M212.6 143.8h0M226.0 129.3h0M223.5 163.6h0M229.8 163.2h0M220.9 160.6h0M227.6 154.8h0M214.6 160.1h0M228.1 156.7h0M231.4 155.9h0M208.1 155.4h0M212.2 147.9h0M210.8 144.8h0M226.1 160.7h0M219.9 163.6h0M227.5 155.6h0M221.4 158.7h0M212.0 139.7h0M211.3 158.9h0M210.1 141.9h0M225.4 129.5h0M223.6 150.1h0M227.5 163.4h0M213.7 144.5h0M222.7 115.9h0M208.3 152.9h0M224.2 155.5h0M221.6 152.9h0M214.7 132.4h0M223.5 162.7h0M208.8 153.1h0M211.0 163.0h0M224.3 120.6h0M226.1 149.9h0M232.2 158.3h0M219.8 160.8h0M208.2 152.9h0M227.6 137.8h0M220.3 148.0h0M226.8 156.7h0M212.1 164.9h0M210.3 138.9h0M210.7 138.2h0M227.0 133.1h0M230.2 157.2h0M221.7 163.2h0M235.2 158.2h0M227.8 150.4h0M209.6 153.0h0M211.2 162.7h0M212.3 140.8h0M207.4 152.7h0M230.4 164.1h0M220.9 160.8h0M213.0 155.3h0M224.2 161.2h0M221.9 154.5h0M206.5 163.9h0M225.3 149.3h0M212.5 123.6h0M223.8 159.1h0M213.6 162.3h0M208.2 149.3h0M212.9 154.4h0M226.6 146.1h0M231.0 156.5h0M207.4 164.9h0M223.0 163.6h0M225.0 160.4h0M220.5 147.5h0M220.5 153.3h0M227.8 154.5h0M231.0 154.7h0M224.1 139.7h0M227.7 163.0h0M220.7 164.3h0M212.6 159.2h0M228.9 158.6h0M219.7 160.1h0M226.8 163.6h0M220.7 162.5h0M220.2 157.8h0M222.6 158.5h0M223.6 129.1h0M221.9 149.5h0M224.2 154.0h0M223.0 154.3h0M227.7 154.5h0M230.2 161.9h0M222.3 146.8h0M221.6 126.0h0M224.4 157.3h0M210.7 145.3h0M213.3 159.5h0M212.7 161.5h0M222.7 148.1h0M214.6 164.1h0M228.6 153.8h0M213.1 161.1h0M222.5 145.0h0M229.6 155.0h0M222.3 134.7h0M214.3 162.0h0M214.3 136.3h0M210.6 156.6h0M225.2 163.1h0M210.4 151.4h0M212.9 157.8h0M222.1 158.9h0M223.8 164.7h0M221.8 161.6h0M220.1 151.8h0M226.3 159.1h0M209.6 163.0h0M232.4 158.2h0M227.6 160.9h0M213.8 157.9h0M232.8 160.3h0M211.5 164.2h0M223.4 142.4h0M213.4 140.9h0M225.4 156.3h0M206.8 161.4h0M223.4 158.1h0M221.0 146.8h0M230.0 154.3h0M224.2 161.5h0M220.7 150.7h0M213.8 118.4h0M213.7 153.6h0M210.3 158.8h0M212.1 157.3h0M213.2 156.1h0M228.8 155.8h0M212.8 164.6h0M221.8 148.1h0M223.2 162.2h0M209.0 149.5h0M208.1 154.3h0M223.5 155.1h0M228.0 148.0h0M213.6 152.3h0M224.9 152.5h0M225.1 139.1h0M228.4 164.5h0M230.7 160.3h0M211.3 154.0h0M227.2 138.4h0M220.0 161.6h0M211.7 158.8h0M208.3 163.1h0M228.9 127.1h0M231.2 156.3h0M220.6 140.0h0M224.9 126.1h0M230.5 162.7h0M209.7 155.9h0M226.6 144.5h0M214.6 157.4h0M220.0 158.1h0M222.5 144.0h0M212.7 161.5h0M231.3 157.2h0M221.4 155.4h0M208.2 145.8h0M224.7 160.2h0M207.4 152.0h0M212.5 141.0h0M228.5 151.2h0M227.1 159.8h0M228.2 139.7h0M210.6 161.9h0M210.4 162.6h0M207.6 162.6h0M225.9 155.3h0M210.2 137.8h0M227.3 164.4h0M229.5 161.3h0M224.7 161.1h0M212.4 155.2h0M220.5 162.5h0M221.9 137.6h0M210.2 163.7h0M209.4 160.7h0M221.9 141.7h0M212.1 164.9h0M220.1 142.3h0M211.4 143.8h0M211.6 159.4h0M229.4 156.3h0M214.0 155.3h0M225.5 157.1h0M213.9 152.2h0M214.9 163.8h0M231.7 164.8h0M212.6 155.5h0M212.6 145.5h0M210.1 148.9h0M212.4 151.4h0M226.9 159.9h0M208.4 140.2h0M212.2 123.7h0M209.7 162.0h0M233.1 163.0h0M232.1 157.8h0M223.4 159.2h0M208.8 143.9h0M225.1 156.1h0M211.8 143.4h0M221.8 156.7h0M210.7 152.7h0M213.6 127.9h0M223.9 164.0h0M209.1 146.1h0M208.7 155.4h0M210.5 163.7h0M223.1 162.8h0M229.6 160.9h0M228.0 163.5h0M213.2 135.2h0M225.4 151.7h0M227.7 161.9h0M207.0 159.7h0M220.8 140.8h0M223.0 154.3h0M232.1 157.0h0M221.4 131.5h0M228.6 139.7h0M220.6 149.4h0M212.9 135.1h0M220.5 161.8h0M212.4 148.8h0M214.6 147.6h0M228.5 157.6h0M225.4 144.8h0M214.7 154.1h0M227.7 142.5h0M232.8 160.9h0M226.5 138.1h0M213.3 155.3h0M221.2 137.3h0M224.3 162.5h0M208.5 163.4h0M211.1 136.8h0M210.0 160.3h0M210.5 157.8h0M223.2 165.0h0M212.0 164.6h0M214.7 154.5h0M220.7 158.0h0M213.9 136.7h0M220.9 147.2h0M208.7 153.4h0M225.3 146.5h0M225.0 151.3h0M221.0 159.1h0M226.6 158.9h0M223.5 148.7h0M221.0 155.7h0M227.4 150.5h0M212.5 131.5h0M224.0 158.9h0M228.7 141.4h0M206.1 162.1h0M211.0 155.2h0M221.8 136.6h0M228.2 159.5h0M214.9 154.4h0M206.8 161.6h0M227.8 164.1h0M219.9 137.8h0M207.1 157.7h0M210.3 153.3h0M226.2 163.4h0M235.5 163.2h0M213.1 143.7h0M231.4 160.1h0M223.6 160.7h0M225.0 143.5h0M223.2 125.5h0M230.0 164.6h0M225.7 150.4h0M223.1 146.7h0M208.4 133.6h0M223.9 149.3h0M227.8 161.1h0M228.7 159.1h0M213.1 119.5h0M226.9 158.6h0M222.4 142.7h0M229.9 154.8h0M220.2 157.4h0M209.0 159.0h0M228.1 146.9h0M213.9 154.4h0M221.8 161.3h0M220.5 165.0h0M227.8 143.2h0M222.6 159.0h0M224.7 147.7h0M207.4 160.2h0M225.3 135.6h0M213.6 148.2h0M213.0 159.5h0M221.0 155.6h0M220.6 158.6h0M209.1 144.0h0M223.7 160.7h0M208.8 156.0h0M224.0 141.7h0M210.1 147.0h0M224.0 160.0h0M226.0 160.0h0M224.0 157.8h0M222.7 152.5h0M221.1 163.4h0M224.5 156.5h0M220.9 137.6h0M226.0 149.8h0M225.5 159.5h0M231.6 155.5h0M231.0 155.2h0M230.6 149.7h0M223.4 164.6h0M212.1 138.5h0M213.3 157.1h0M224.9 163.6h0M232.4 157.0h0M208.2 150.0h0M231.5 154.0h0M208.1 157.0h0M222.1 123.0h0M210.1 160.7h0M208.5 152.6h0M221.8 158.6h0M224.8 142.3h0M212.1 164.3h0M222.4 157.8h0M222.8 164.0h0M230.1 164.3h0M209.3 150.3h0M211.0 161.9h0M212.6 146.1h0M209.1 149.1h0M220.8 148.3h0M204.7 158.9h0M227.4 156.2h0M209.7 159.6h0M212.5 145.7h0M228.5 139.7h0M227.4 164.8h0M222.3 157.6h0M223.6 142.0h0M226.3 164.4h0M212.8 165.0h0M226.1 149.8h0M229.6 161.5h0M206.8 161.7h0M221.9 158.6h0M209.0 145.3h0M208.2 163.5h0M225.3 132.7h0M229.7 147.2h0M213.0 118.0h0M219.8 161.7h0M214.2 137.9h0M209.4 160.2h0M211.1 163.1h0M213.1 156.1h0M213.8 145.7h0M221.3 152.6h0M226.5 132.5h0M210.9 132.3h0M225.6 153.5h0M210.8 148.6h0M223.4 161.9h0M207.4 163.1h0M214.0 141.2h0M211.2 163.0h0M214.5 124.6h0M221.5 158.7h0M229.7 153.2h0M220.7 142.7h0M213.8 117.3h0M229.5 159.3h0M231.1 164.3h0M226.4 155.4h0M231.9 164.6h0M231.0 148.0h0M213.8 117.9h0M211.4 151.0h0M220.0 151.4h0M211.6 126.5h0M214.2 144.8h0M224.2 148.6h0M212.0 121.1h0M228.3 163.3h0M226.6 164.4h0M220.8 162.6h0M211.2 133.7h0M230.7 155.8h0M221.5 154.3h0M206.7 164.7h0M211.5 156.9h0M225.7 133.3h0M227.0 159.6h0M223.6 151.4h0M220.6 138.9h0M213.3 161.5h0M225.9 149.3h0M223.4 126.9h0M221.3 154.8h0M226.7 156.7h0M209.6 158.3h0M210.4 163.6h0M222.6 156.1h0M222.4 164.8h0M214.1 155.6h0M213.2 137.8h0M221.9 141.1h0M220.6 141.0h0M223.8 151.5h0M206.0 162.6h0M227.8 140.2h0M223.2 124.5h0M213.3 156.8h0M211.1 163.1h0M221.3 159.1h0M214.6 145.9h0M225.0 159.0h0M220.1 150.4h0M223.9 163.0h0M222.6 150.6h0M208.6 151.8h0M221.1 160.4h0M209.0 161.8h0M225.7 157.5h0M223.7 157.4h0M212.8 126.9h0M208.9 147.8h0M212.3 132.5h0M209.7 153.8h0M227.3 147.8h0M208.5 156.5h0M222.0 139.0h0M213.1 159.8h0M225.3 141.7h0M208.1 163.2h0M224.8 153.7h0M222.9 160.8h0M231.7 164.3h0M232.0 163.1h0M213.3 159.7h0M222.7 149.6h0M228.2 163.6h0M214.4 158.5h0M211.9 160.7h0M207.7 154.3h0M210.2 162.1h0M224.0 152.9h0M224.1 164.4h0M220.8 162.7h0M221.1 159.8h0M221.4 147.6h0M209.0 148.9h0M211.2 157.3h0M207.4 153.0h0M231.9 159.0h0M224.5 143.3h0M213.8 163.1h0M207.2 159.2h0M229.1 146.6h0M213.0 159.3h0M213.5 158.0h0M223.6 155.7h0M222.8 154.2h0M213.6 147.3h0M214.0 152.8h0M210.1 140.8h0M213.2 115.0h0M226.2 152.9h0M221.6 163.6h0M226.3 148.3h0M212.1 125.0h0M213.4 142.4h0M228.5 162.5h0M231.9 157.4h0M226.6 142.1h0M230.4 155.0h0M228.3 147.7h0M230.4 153.7h0M220.9 146.2h0M223.2 158.8h0M208.3 149.3h0M210.7 152.3h0M225.7 163.8h0M209.6 156.2h0M220.3 118.1h0M209.7 163.0h0M221.7 138.0h0M210.5 164.6h0M227.5 159.6h0M229.1 159.7h0M220.2 155.4h0M230.3 155.6h0M223.1 133.3h0M214.9 162.1h0M209.0 163.2h0M210.5 151.3h0M211.4 129.1h0M225.9 151.6h0M220.5 145.2h0M232.0 158.0h0M209.2 160.6h0M214.4 152.7h0M223.8 121.0h0M208.8 164.7h0M228.8 158.1h0M207.5 149.1h0M208.6 147.1h0M230.6 140.9h0M222.9 125.9h0M223.0 145.3h0M229.7 152.7h0M221.7 164.6h0M222.4 126.7h0M220.8 151.6h0M213.6 146.3h0M219.9 135.3h0M220.0 143.9h0M214.8 156.5h0M207.0 161.5h0M222.8 161.2h0M224.9 159.3h0M209.3 146.9h0M232.5 163.4h0M224.8 163.3h0M224.5 162.9h0M224.9 155.4h0M231.9 161.9h0M212.1 152.8h0M214.8 144.9h0M228.0 157.5h0M214.7 134.8h0M212.6 164.0h0M219.7 150.1h0M205.9 163.9h0M229.9 153.8h0M227.5 157.0h0M204.9 153.3h0M211.5 160.7h0M213.2 164.4h0M227.0 163.3h0M231.5 156.8h0M220.7 127.5h0M228.6 164.5h0M211.8 159.4h0M206.2 164.7h0M222.7 130.0h0M229.4 163.2h0M209.5 141.5h0M221.8 137.3h0M209.7 135.8h0M225.5 157.0h0M220.4 142.7h0M210.7 144.2h0M233.8 164.1h0M229.0 154.7h0M213.1 158.8h0M213.7 132.2h0M207.9 152.2h0M206.2 163.5h0M221.9 146.1h0M222.1 145.8h0M208.4 152.5h0M220.9 135.0h0M223.7 160.4h0M225.2 153.3h0M222.8 149.8h0M220.8 165.0h0M207.0 163.2h0M223.3 164.7h0M208.7 157.8h0M209.3 160.8h0M213.3 159.1h0M214.1 154.8h0M214.3 155.8h0M221.3 163.0h0M227.9 159.2h0M207.7 150.5h0M220.3 137.7h0M209.9 143.0h0M222.4 135.5h0M213.6 123.8h0M213.2 161.0h0M211.7 161.9h0M227.3 149.8h0M222.9 161.5h0M213.9 162.6h0M212.0 149.0h0M211.5 153.7h0M209.6 151.2h0M230.5 151.7h0M230.4 157.4h0M225.2 143.0h0M220.9 117.0h0M228.8 152.4h0M225.4 161.3h0M233.6 146.6h0M211.9 140.9h0M220.1 122.7h0M221.0 155.5h0M210.5 155.1h0M224.7 158.6h0M214.7 162.8h0M212.7 160.0h0M221.3 154.8h0M209.5 161.5h0M226.3 156.3h0M220.1 151.5h0M220.3 117.6h0M210.3 144.5h0M214.3 127.5h0M214.8 161.2h0M206.1 163.2h0M228.7 157.0h0M231.0 163.1h0M222.8 155.4h0M221.9 162.6h0M220.8 133.9h0M222.9 155.2h0M223.5 126.8h0M220.2 135.4h0M210.6 134.2h0M225.3 154.2h0M223.9 162.7h0M230.7 138.1h0M208.1 163.9h0M224.8 144.6h0M223.1 132.1h0M223.0 154.1h0M230.4 164.8h0M230.7 156.7h0M206.7 161.1h0M228.8 157.6h0M221.0 164.5h0M229.3 152.0h0M208.4 147.4h0M234.0 160.4h0M213.7 135.0h0M221.1 155.4h0M211.6 161.4h0M214.6 135.7h0M207.1 160.4h0M225.4 141.4h0M230.7 164.9h0M212.2 154.1h0M213.1 163.8h0M212.4 153.1h0M223.2 160.9h0M226.3 156.4h0M226.1 162.0h0M210.3 146.3h0M226.9 151.3h0M210.9 159.9h0M224.5 161.2h0M232.7 160.6h0M206.3 160.7h0M223.4 135.9h0M213.4 147.8h0M222.0 147.9h0M211.2 160.6h0M222.6 126.3h0M214.4 154.1h0M208.5 155.0h0M230.1 150.3h0M213.0 143.4h0M220.1 151.4h0M220.2 156.0h0M221.9 163.0h0M225.6 146.6h0M213.7 140.3h0M213.1 158.7h0M214.6 164.9h0M226.2 150.6h0M210.1 162.0h0M232.5 164.3h0M212.4 143.1h0M223.7 123.7h0M232.0 162.1h0M212.6 154.8h0M212.6 155.8h0M211.9 161.1h0M209.0 164.0h0M211.7 142.8h0M225.2 134.5h0M225.6 150.5h0M223.9 162.0h0M225.6 136.4h0M207.1 154.8h0M214.4 158.5h0M210.2 149.1h0M226.5 140.5h0M229.8 160.3h0M211.4 137.5h0M226.5 163.8h0M223.9 153.2h0M222.5 147.6h0M232.3 161.2h0M223.3 130.2h0M210.4 163.3h0M221.1 117.8h0M214.2 124.8h0M225.1 163.9h0M230.6 156.7h0M213.8 131.2h0M220.6 149.4h0M214.6 130.7h0M227.3 161.7h0M214.7 144.9h0M225.7 138.8h0M225.9 153.1h0M210.2 148.4h0M227.7 135.6h0M206.4 164.1h0M214.2 120.1h0M225.2 153.6h0M213.4 117.7h0M213.1 162.7h0M207.9 156.5h0M210.8 132.6h0M224.0 160.5h0M209.0 156.9h0M213.5 119.1h0M228.4 158.5h0M225.2 158.2h0M228.4 159.3h0M225.4 157.0h0M224.7 152.8h0M207.4 163.7h0M232.1 162.0h0M207.4 161.0h0M228.3 147.8h0M226.7 148.1h0M214.5 156.3h0M229.6 158.0h0M212.4 135.0h0M212.2 160.6h0M230.0 154.3h0M220.6 121.6h0M223.1 134.0h0M206.3 134.5h0M212.8 138.1h0M237.2 158.1h0M204.3 146.5h0M207.6 123.1h0M212.4 129.3h0M209.8 161.5h0M204.7 139.2h0M213.9 124.3h0M228.8 116.4h0M239.2 139.3h0M209.3 132.7h0M209.7 138.8h0M223.1 149.6h0M239.0 161.8h0M207.8 114.9h0M202.4 119.1h0M222.7 138.8h0M202.4 120.7h0M214.1 147.0h0M238.0 162.8h0M204.3 164.0h0M212.8 137.2h0M226.2 154.0h0M209.6 149.2h0M205.8 137.5h0M230.7 162.4h0M238.4 114.3h0M211.2 155.7h0M202.9 160.1h0M206.2 129.9h0M239.1 156.5h0M234.1 127.5h0M213.9 140.6h0M233.2 112.7h0M213.2 140.1h0M213.2 158.8h0M236.5 131.8h0M239.4 113.4h0M230.6 138.9h0M204.9 133.8h0M207.8 135.5h0M207.0 130.7h0M209.9 139.9h0M208.5 136.7h0M211.8 157.5h0M208.9 144.4h0M229.4 128.0h0M203.8 134.2h0M228.8 135.1h0M236.2 147.1h0M227.5 123.3h0M211.8 140.9h0M210.0 115.4h0M208.1 161.1h0M238.8 114.2h0M225.7 129.2h0M204.3 164.9h0M206.5 117.9h0M227.9 116.7h0M203.4 151.5h0M209.4 144.2h0M213.5 116.5h0M239.9 134.1h0M205.1 152.5h0M227.1 126.7h0M212.3 116.0h0M214.2 156.4h0M238.7 150.6h0M211.9 141.7h0M212.4 113.9h0M205.9 151.9h0M223.8 123.3h0M230.3 137.0h0M212.2 117.9h0M207.5 160.6h0M211.7 139.9h0M210.3 118.5h0M205.1 113.3h0M223.9 142.4h0M233.7 156.9h0M233.0 124.6h0M224.8 162.7h0M212.5 127.9h0M235.2 155.2h0M231.6 129.4h0M202.4 141.6h0M231.1 120.2h0M238.4 120.6h0M205.5 131.3h0M202.7 126.3h0M205.9 150.7h0M234.4 162.9h0M223.6 127.3h0M210.6 155.4h0M238.2 149.7h0M226.8 115.7h0M208.7 154.5h0M232.6 159.8h0M233.4 151.0h0M202.9 139.4h0M204.1 138.3h0M208.2 149.0h0M203.3 142.4h0M226.0 127.7h0M210.9 136.8h0M213.9 136.1h0M237.9 154.3h0M229.0 125.6h0M234.6 135.9h0M290.5 153.8h0M267.2 154.0h0M264.5 150.6h0M257.0 158.2h0M252.9 162.9h0M258.0 151.2h0M256.7 142.0h0M248.6 143.2h0M245.0 140.7h0M242.3 131.0h0M239.0 129.0h0M236.0 126.5h0M241.9 118.0h0M246.5 114.7h0M254.5 130.0h0M246.4 114.7h0M241.5 117.8h0M251.7 111.3h0M267.8 127.7h0M263.7 69.0h0M243.1 78.6h0M235.8 88.3h0M205.9 46.5h0M230.6 55.0h0M224.8 62.5h0M224.0 72.3h0M208.0 78.5h0M243.3 78.8h0M195.3 86.3h0M205.9 88.4h0M235.7 87.7h0M182.2 91.6h0M205.0 17.5h0M205.6 22.5h0M186.0 120.0h0M190.0 124.0h0M188.0 130.0h0M196.0 135.0h0M199.0 148.0h0M194.0 155.0h0M185.0 159.0h0M190.0 160.0h0M200.0 160.0h0M238.0 160.0h0M240.0 150.0h0M236.0 140.0h0M230.0 122.0h0M232.0 125.0h0M229.0 113.0h0M210.0 113.0h0M214.0 116.0h0M222.0 113.0h0M225.0 116.0h0M204.0 128.0h0M206.0 140.0h0M244.0 135.0h0M248.0 150.0h0M250.0 157.0h0M246.0 162.0h0" stroke="#1cc0c4" stroke-width="1.7" stroke-linecap="round" fill="none"/>
<text x="195.4" y="15.2" font-size="6.0" fill="#1cc0c4" stroke="#1cc0c4" stroke-width="0.18">Tagap1</text>
<text x="195.4" y="29.0" font-size="6.0" fill="#1cc0c4" stroke="#1cc0c4" stroke-width="0.18">6430548M08Rik</text>
<text x="196.0" y="53.3" font-size="6.0" fill="#1cc0c4" stroke="#1cc0c4" stroke-width="0.18">Syvn1</text>
<text x="228.0" y="53.0" font-size="6.0" fill="#1cc0c4" stroke="#1cc0c4" stroke-width="0.18">Cyp7a1</text>
<text x="195.0" y="62.8" font-size="6.0" fill="#1cc0c4" stroke="#1cc0c4" stroke-width="0.18">Serpina3n</text>
<text x="223.9" y="70.2" font-size="6.0" fill="#1cc0c4" stroke="#1cc0c4" stroke-width="0.18">Selenbp1</text>
<text x="254.3" y="67.9" font-size="6.0" fill="#1cc0c4" stroke="#1cc0c4" stroke-width="0.18">1810053B23Rik</text>
<text x="195.7" y="77.0" font-size="6.0" fill="#1cc0c4" stroke="#1cc0c4" stroke-width="0.18">Arfgap3</text>
<text x="245.3" y="77.6" font-size="6.0" fill="#1cc0c4" stroke="#1cc0c4" stroke-width="0.18">Cacnb1</text>
<text x="184.0" y="84.6" font-size="6.0" fill="#1cc0c4" stroke="#1cc0c4" stroke-width="0.18">Derl3</text>
<text x="204.0" y="86.6" font-size="6.0" fill="#1cc0c4" stroke="#1cc0c4" stroke-width="0.18">Hsph1</text>
<text x="231.6" y="84.7" font-size="6.0" fill="#1cc0c4" stroke="#1cc0c4" stroke-width="0.18">Gstt3</text>
<text x="190.9" y="95.9" font-size="6.0" fill="#1cc0c4" stroke="#1cc0c4" stroke-width="0.18">Atad2</text>
<text x="209.2" y="97.1" font-size="6.0" fill="#1cc0c4" stroke="#1cc0c4" stroke-width="0.18">Ampd2</text>
<text x="244.6" y="93.5" font-size="6.0" fill="#1cc0c4" stroke="#1cc0c4" stroke-width="0.18">Gstm2</text>
<text x="230.9" y="99.3" font-size="6.0" fill="#1cc0c4" stroke="#1cc0c4" stroke-width="0.18">Nqo1</text>
<text x="178.0" y="101.6" font-size="6.0" fill="#1cc0c4" stroke="#1cc0c4" stroke-width="0.18">Ces2b</text>
<text x="214.4" y="105.2" font-size="5.0" fill="#1cc0c4" stroke="#1cc0c4" stroke-width="0.18">Mat1a</text>
<text x="231.0" y="106.6" font-size="6.0" fill="#1cc0c4" stroke="#1cc0c4" stroke-width="0.18">Bhmt</text>
<text x="190.0" y="109.6" font-size="6.0" fill="#1cc0c4" stroke="#1cc0c4" stroke-width="0.18">Gmppb</text>
<text x="211.2" y="113.3" font-size="4.9" fill="#1cc0c4" stroke="#1cc0c4" stroke-width="0.18">Bckdhb</text>
<text x="182.8" y="116.9" font-size="5.05" fill="#1cc0c4" stroke="#1cc0c4" stroke-width="0.18">Bhlha15</text>
<text x="251.7" y="110.6" font-size="6.0" fill="#1cc0c4" stroke="#1cc0c4" stroke-width="0.18">Lcn2</text>
<text x="244.8" y="120.9" font-size="6.0" fill="#1cc0c4" stroke="#1cc0c4" stroke-width="0.18">Orm2</text>
<text x="268.1" y="127.3" font-size="6.0" fill="#1cc0c4" stroke="#1cc0c4" stroke-width="0.18">Mt2</text>
<text x="246.0" y="136.4" font-size="6.0" fill="#1cc0c4" stroke="#1cc0c4" stroke-width="0.18">Orm3</text>
<line x1="230.0" y1="93.8" x2="244.0" y2="93.8" stroke="#1cc0c4" stroke-width="0.4"/>
<line x1="182.2" y1="91.6" x2="183.5" y2="96.5" stroke="#1cc0c4" stroke-width="0.4"/>
<line x1="204.0" y1="98.0" x2="204.0" y2="104.0" stroke="#1cc0c4" stroke-width="0.4"/>
<text x="306.3" y="9.0" font-size="10.6" font-weight="bold" fill="#000">c</text>
<line x1="323.2" y1="10.1" x2="323.2" y2="195.3" stroke="#7a7a7a" stroke-width="1.3"/>
<line x1="322.6" y1="194.7" x2="531.0" y2="194.7" stroke="#6a6a6a" stroke-width="1.4"/>
<line x1="321.6" y1="187.0" x2="323.1" y2="187.0" stroke="#686868" stroke-width="0.6"/>
<text x="321.1" y="188.7" font-size="4.8" text-anchor="end" fill="#8c8c8c" stroke="#8c8c8c" stroke-width="0.18">0</text>
<line x1="321.6" y1="140.0" x2="323.1" y2="140.0" stroke="#686868" stroke-width="0.6"/>
<text x="321.1" y="141.7" font-size="4.8" text-anchor="end" fill="#8c8c8c" stroke="#8c8c8c" stroke-width="0.18">3</text>
<line x1="321.6" y1="93.0" x2="323.1" y2="93.0" stroke="#686868" stroke-width="0.6"/>
<text x="321.1" y="94.7" font-size="4.8" text-anchor="end" fill="#8c8c8c" stroke="#8c8c8c" stroke-width="0.18">6</text>
<line x1="321.6" y1="46.0" x2="323.1" y2="46.0" stroke="#686868" stroke-width="0.6"/>
<text x="321.1" y="47.6" font-size="4.8" text-anchor="end" fill="#8c8c8c" stroke="#8c8c8c" stroke-width="0.18">9</text>
<line x1="331.0" y1="194.6" x2="331.0" y2="196.1" stroke="#686868" stroke-width="0.6"/>
<text x="331.0" y="200.4" font-size="4.8" text-anchor="middle" fill="#8c8c8c" stroke="#8c8c8c" stroke-width="0.18">0</text>
<line x1="405.0" y1="194.6" x2="405.0" y2="196.1" stroke="#686868" stroke-width="0.6"/>
<text x="405.0" y="200.4" font-size="4.8" text-anchor="middle" fill="#8c8c8c" stroke="#8c8c8c" stroke-width="0.18">10</text>
<line x1="479.0" y1="194.6" x2="479.0" y2="196.1" stroke="#686868" stroke-width="0.6"/>
<text x="479.0" y="200.4" font-size="4.8" text-anchor="middle" fill="#8c8c8c" stroke="#8c8c8c" stroke-width="0.18">20</text>
<text x="409.5" y="207.4" font-size="7" font-weight="bold" textLength="35.0" lengthAdjust="spacingAndGlyphs" fill="#111">Odds ratio</text>
<text transform="translate(311.0,99.9) rotate(-90)" x="0" y="2.52" font-size="7" font-weight="bold" text-anchor="middle" textLength="55.1" lengthAdjust="spacingAndGlyphs" fill="#111">−log10 (p-value)</text>
<text x="506.6" y="30.2" font-size="5.2" fill="#222" stroke="#222" stroke-width="0.18">p-value</text>
<defs><linearGradient id="gb" x1="0" y1="0" x2="0" y2="1"><stop offset="0" stop-color="#56B1F7"/><stop offset="1" stop-color="#132B43"/></linearGradient></defs>
<rect x="506.6" y="32.2" width="6.2" height="30.6" fill="url(#gb)"/>
<line x1="506.6" y1="39.1" x2="507.8" y2="39.1" stroke="#fff" stroke-width="0.4"/>
<line x1="511.6" y1="39.1" x2="512.8" y2="39.1" stroke="#fff" stroke-width="0.4"/>
<text x="514.7" y="40.9" font-size="5.1" fill="#333" stroke="#333" stroke-width="0.18">0.75</text>
<line x1="506.6" y1="46.8" x2="507.8" y2="46.8" stroke="#fff" stroke-width="0.4"/>
<line x1="511.6" y1="46.8" x2="512.8" y2="46.8" stroke="#fff" stroke-width="0.4"/>
<text x="514.7" y="48.6" font-size="5.1" fill="#333" stroke="#333" stroke-width="0.18">0.50</text>
<line x1="506.6" y1="54.7" x2="507.8" y2="54.7" stroke="#fff" stroke-width="0.4"/>
<line x1="511.6" y1="54.7" x2="512.8" y2="54.7" stroke="#fff" stroke-width="0.4"/>
<text x="514.7" y="56.5" font-size="5.1" fill="#333" stroke="#333" stroke-width="0.18">0.25</text>
<text x="507.2" y="72.8" font-size="5.2" textLength="38.0" lengthAdjust="spacingAndGlyphs" fill="#222" stroke="#222" stroke-width="0.18">Combined.Score</text>
<circle cx="509.6" cy="76.6" r="1.2" fill="#000"/>
<text x="514.3" y="78.4" font-size="5.1" fill="#333" stroke="#333" stroke-width="0.18">100</text>
<circle cx="509.6" cy="83.0" r="1.65" fill="#000"/>
<text x="514.3" y="84.8" font-size="5.1" fill="#333" stroke="#333" stroke-width="0.18">200</text>
<circle cx="509.6" cy="89.5" r="2.0" fill="#000"/>
<text x="514.3" y="91.3" font-size="5.1" fill="#333" stroke="#333" stroke-width="0.18">300</text>
<circle cx="509.6" cy="95.6" r="2.4" fill="#000"/>
<text x="514.3" y="97.4" font-size="5.1" fill="#333" stroke="#333" stroke-width="0.18">400</text>
<circle cx="447.7" cy="13.6" r="2.6" fill="#15304b"/>
<circle cx="450.5" cy="12.5" r="2.6" fill="#15304b"/>
<circle cx="422.6" cy="53.2" r="1.9" fill="#15304b"/>
<circle cx="399.1" cy="117.3" r="1.7" fill="#15304b"/>
<circle cx="406.4" cy="123.6" r="1.5" fill="#15304b"/>
<circle cx="375.5" cy="125.1" r="1.3" fill="#15304b"/>
<circle cx="381.0" cy="127.6" r="1.4" fill="#15304b"/>
<circle cx="380.0" cy="128.5" r="1.3" fill="#15304b"/>
<circle cx="420.5" cy="129.2" r="1.5" fill="#15304b"/>
<circle cx="414.5" cy="141.8" r="1.3" fill="#15304b"/>
<circle cx="383.6" cy="150.0" r="1.2" fill="#15304b"/>
<circle cx="521.9" cy="143.1" r="1.8" fill="#15304b"/>
<circle cx="425.9" cy="151.0" r="1.3" fill="#15304b"/>
<circle cx="374.5" cy="152.7" r="1.1" fill="#15304b"/>
<circle cx="397.3" cy="165.9" r="1.2" fill="#15304b"/>
<circle cx="386.4" cy="166.8" r="1.1" fill="#15304b"/>
<circle cx="353.6" cy="153.3" r="0.9" fill="#15304b"/>
<circle cx="360.5" cy="154.4" r="0.9" fill="#15304b"/>
<circle cx="351.1" cy="159.3" r="0.9" fill="#15304b"/>
<circle cx="360.2" cy="159.8" r="0.9" fill="#15304b"/>
<circle cx="361.0" cy="154.0" r="1.1" fill="#15304b"/>
<path d="M332.1 180.7 L348.1 173.6 M332.1 180.7 L353.2 172.2 M332.1 180.7 L340 175 L351.4 168 M332.1 180.7 L344 173.5" stroke="#3b86c8" stroke-width="1.2" fill="none" stroke-linecap="round"/>
<path d="M332.1 180.7 L336 178.2 M332.1 180.7 L337 179" stroke="#5aaae8" stroke-width="1.1" fill="none"/>
<path d="M342.4 166.8h0M345.2 167.0h0M347.1 165.2h0M349.0 163.8h0M350.9 159.1h0M353.2 160.0h0M353.7 153.0h0M354.2 162.8h0M355.6 167.1h0M357.0 165.2h0M358.9 164.7h0M360.7 159.8h0M361.2 153.9h0M363.1 163.8h0M357.0 171.8h0M359.3 171.3h0M361.7 170.4h0M343.8 168.9h0M342.9 170.4h0M344.8 170.4h0M345.7 168.5h0M340.5 171.0h0M338.5 173.0h0M346.5 166.0h0M352.0 162.0h0M365.5 162.8h0M368.0 162.0h0M370.5 161.2h0M373.0 160.5h0M375.5 160.0h0M378.0 159.4h0M380.9 158.7h0M351.0 159.3h0M360.2 159.8h0M352.0 164.5h0M348.5 171.5h0M350.5 170.7h0" stroke="#15304b" stroke-width="2.0" stroke-linecap="round" fill="none"/>
<line x1="374.5" y1="152.7" x2="388.0" y2="152.7" stroke="#333" stroke-width="0.55"/>
<line x1="352.9" y1="158.7" x2="352.9" y2="178.9" stroke="#333" stroke-width="0.55"/>
<line x1="361.8" y1="156.0" x2="372.7" y2="168.5" stroke="#333" stroke-width="0.55"/>
<line x1="361.0" y1="154.0" x2="369.5" y2="175.0" stroke="#333" stroke-width="0.55"/>
<line x1="354.0" y1="144.0" x2="361.0" y2="154.0" stroke="#333" stroke-width="0.55"/>
<line x1="381.0" y1="127.6" x2="384.0" y2="125.8" stroke="#333" stroke-width="0.55"/>
<text x="449.1" y="7.4" font-size="5.3" fill="#1a1a1a" stroke="#1a1a1a" stroke-width="0.18">Steroid hormone</text>
<text x="454.0" y="13.9" font-size="5.3" fill="#1a1a1a" stroke="#1a1a1a" stroke-width="0.18">biosynthesis</text>
<text x="411.5" y="21.5" font-size="5.3" textLength="45.0" lengthAdjust="spacingAndGlyphs" fill="#1a1a1a" stroke="#1a1a1a" stroke-width="0.18">Retinol metabolism</text>
<text x="390.3" y="59.7" font-size="5.3" textLength="58.7" lengthAdjust="spacingAndGlyphs" fill="#1a1a1a" stroke="#1a1a1a" stroke-width="0.18">Chemical carcinogenesis</text>
<text x="366.0" y="109.5" font-size="5.3" fill="#1a1a1a" stroke="#1a1a1a" stroke-width="0.18">Metabolism of xenobiotics</text>
<text x="372.2" y="115.0" font-size="5.3" fill="#1a1a1a" stroke="#1a1a1a" stroke-width="0.18">by cytochrome P450</text>
<text x="339.6" y="123.4" font-size="5.3" fill="#1a1a1a" stroke="#1a1a1a" stroke-width="0.18">Drug metabolism</text>
<text x="405.5" y="121.8" font-size="5.3" textLength="56.7" lengthAdjust="spacingAndGlyphs" fill="#1a1a1a" stroke="#1a1a1a" stroke-width="0.18">Linoleic acid metabolism</text>
<text x="383.6" y="127.7" font-size="5.3" textLength="92.2" lengthAdjust="spacingAndGlyphs" fill="#1a1a1a" stroke="#1a1a1a" stroke-width="0.18">Complement and coagulation cascades</text>
<text x="413.1" y="134.1" font-size="5.3" textLength="97.3" lengthAdjust="spacingAndGlyphs" fill="#1a1a1a" stroke="#1a1a1a" stroke-width="0.18">Pentose and glucuronate interconversions</text>
<text x="340.4" y="131.5" font-size="5.3" fill="#1a1a1a" stroke="#1a1a1a" stroke-width="0.18">Arachidonic acid</text>
<text x="346.4" y="136.4" font-size="5.3" fill="#1a1a1a" stroke="#1a1a1a" stroke-width="0.18">metabolism</text>
<text x="388.2" y="140.1" font-size="5.3" textLength="82.7" lengthAdjust="spacingAndGlyphs" fill="#1a1a1a" stroke="#1a1a1a" stroke-width="0.18">Ascorbate and aldarate metabolism</text>
<text x="354.0" y="143.2" font-size="5.3" fill="#1a1a1a" stroke="#1a1a1a" stroke-width="0.18">Small cell</text>
<text x="352.4" y="148.3" font-size="5.3" fill="#1a1a1a" stroke="#1a1a1a" stroke-width="0.18">lung cancer</text>
<text x="382.7" y="146.8" font-size="5.3" textLength="87.7" lengthAdjust="spacingAndGlyphs" fill="#1a1a1a" stroke="#1a1a1a" stroke-width="0.18">Porphyrin and chlorophyll metabolism</text>
<text x="329.0" y="150.1" font-size="5.3" fill="#1a1a1a" stroke="#1a1a1a" stroke-width="0.18">Cellular</text>
<text x="324.5" y="155.5" font-size="5.3" fill="#1a1a1a" stroke="#1a1a1a" stroke-width="0.18">senescence</text>
<text x="390.0" y="155.5" font-size="5.3" fill="#1a1a1a" stroke="#1a1a1a" stroke-width="0.18">Cholesterol</text>
<text x="390.0" y="160.1" font-size="5.3" fill="#1a1a1a" stroke="#1a1a1a" stroke-width="0.18">metabolism</text>
<text x="400.0" y="167.4" font-size="5.3" textLength="47.7" lengthAdjust="spacingAndGlyphs" fill="#1a1a1a" stroke="#1a1a1a" stroke-width="0.18">Fatty acid elongation</text>
<text x="372.7" y="173.3" font-size="5.3" textLength="53.2" lengthAdjust="spacingAndGlyphs" fill="#1a1a1a" stroke="#1a1a1a" stroke-width="0.18">Glutathione metabolism</text>
<text x="361.8" y="179.6" font-size="5.3" textLength="61.4" lengthAdjust="spacingAndGlyphs" fill="#1a1a1a" stroke="#1a1a1a" stroke-width="0.18">Hematopoietic cell lineage</text>
<text x="332.4" y="186.0" font-size="5.3" fill="#1a1a1a" stroke="#1a1a1a" stroke-width="0.18">Hepatocellular</text>
<text x="336.4" y="191.1" font-size="5.3" fill="#1a1a1a" stroke="#1a1a1a" stroke-width="0.18">carcinoma</text>
<text x="488.6" y="141.4" font-size="5.3" textLength="53.8" lengthAdjust="spacingAndGlyphs" fill="#1a1a1a" stroke="#1a1a1a" stroke-width="0.18">Vitamin B6 metabolism</text>
<text x="428.6" y="154.3" font-size="5.3" textLength="68.8" lengthAdjust="spacingAndGlyphs" fill="#1a1a1a" stroke="#1a1a1a" stroke-width="0.18">Primary bile acid biosynthesis</text>
<text x="4.6" y="228.9" font-size="11.2" font-weight="bold" fill="#000">d</text>
<line x1="20.6" y1="225.6" x2="20.6" y2="411.0" stroke="#7a7a7a" stroke-width="1.4"/>
<line x1="20.0" y1="410.4" x2="235.8" y2="410.4" stroke="#777777" stroke-width="1.4"/>
<line x1="19.5" y1="402.1" x2="21.0" y2="402.1" stroke="#686868" stroke-width="0.6"/>
<text x="18.9" y="403.8" font-size="4.8" text-anchor="end" fill="#8c8c8c" stroke="#8c8c8c" stroke-width="0.18">0</text>
<line x1="19.5" y1="363.2" x2="21.0" y2="363.2" stroke="#686868" stroke-width="0.6"/>
<text x="18.9" y="364.9" font-size="4.8" text-anchor="end" fill="#8c8c8c" stroke="#8c8c8c" stroke-width="0.18">1</text>
<line x1="19.5" y1="324.3" x2="21.0" y2="324.3" stroke="#686868" stroke-width="0.6"/>
<text x="18.9" y="326.0" font-size="4.8" text-anchor="end" fill="#8c8c8c" stroke="#8c8c8c" stroke-width="0.18">2</text>
<line x1="19.5" y1="285.5" x2="21.0" y2="285.5" stroke="#686868" stroke-width="0.6"/>
<text x="18.9" y="287.1" font-size="4.8" text-anchor="end" fill="#8c8c8c" stroke="#8c8c8c" stroke-width="0.18">3</text>
<line x1="19.5" y1="246.6" x2="21.0" y2="246.6" stroke="#686868" stroke-width="0.6"/>
<text x="18.9" y="248.3" font-size="4.8" text-anchor="end" fill="#8c8c8c" stroke="#8c8c8c" stroke-width="0.18">4</text>
<line x1="30.0" y1="410.4" x2="30.0" y2="411.9" stroke="#686868" stroke-width="0.6"/>
<text x="30.0" y="416.0" font-size="4.8" text-anchor="middle" fill="#8c8c8c" stroke="#8c8c8c" stroke-width="0.18">0</text>
<line x1="87.3" y1="410.4" x2="87.3" y2="411.9" stroke="#686868" stroke-width="0.6"/>
<text x="87.3" y="416.0" font-size="4.8" text-anchor="middle" fill="#8c8c8c" stroke="#8c8c8c" stroke-width="0.18">20</text>
<line x1="144.6" y1="410.4" x2="144.6" y2="411.9" stroke="#686868" stroke-width="0.6"/>
<text x="144.6" y="416.0" font-size="4.8" text-anchor="middle" fill="#8c8c8c" stroke="#8c8c8c" stroke-width="0.18">40</text>
<line x1="201.9" y1="410.4" x2="201.9" y2="411.9" stroke="#686868" stroke-width="0.6"/>
<text x="201.9" y="416.0" font-size="4.8" text-anchor="middle" fill="#8c8c8c" stroke="#8c8c8c" stroke-width="0.18">60</text>
<text x="110.4" y="422.9" font-size="7" font-weight="bold" textLength="35.6" lengthAdjust="spacingAndGlyphs" fill="#111">Odds ratio</text>
<text transform="translate(7.6,315.6) rotate(-90)" x="0" y="2.52" font-size="7" font-weight="bold" text-anchor="middle" textLength="53.3" lengthAdjust="spacingAndGlyphs" fill="#111">−log10 (p-value)</text>
<text x="222.2" y="337.2" font-size="5.5" textLength="40.6" lengthAdjust="spacingAndGlyphs" fill="#222" stroke="#222" stroke-width="0.18">Combined.Score</text>
<circle cx="225.0" cy="341.8" r="1.3" fill="#000"/>
<text x="230.0" y="343.8" font-size="5.6" fill="#333" stroke="#333" stroke-width="0.18">200</text>
<circle cx="225.0" cy="347.9" r="1.7" fill="#000"/>
<text x="230.0" y="349.9" font-size="5.6" fill="#333" stroke="#333" stroke-width="0.18">400</text>
<circle cx="225.0" cy="354.2" r="2.1" fill="#000"/>
<text x="230.0" y="356.2" font-size="5.6" fill="#333" stroke="#333" stroke-width="0.18">600</text>
<text x="222.2" y="367.4" font-size="5.3" textLength="17.5" lengthAdjust="spacingAndGlyphs" fill="#222" stroke="#222" stroke-width="0.18">p-value</text>
<rect x="221.8" y="369.6" width="6.4" height="30.6" fill="url(#gb)"/>
<line x1="221.8" y1="376.7" x2="223.0" y2="376.7" stroke="#fff" stroke-width="0.4"/>
<line x1="227.0" y1="376.7" x2="228.2" y2="376.7" stroke="#fff" stroke-width="0.4"/>
<text x="230.0" y="378.6" font-size="5.45" fill="#333" stroke="#333" stroke-width="0.18">0.75</text>
<line x1="221.8" y1="384.5" x2="223.0" y2="384.5" stroke="#fff" stroke-width="0.4"/>
<line x1="227.0" y1="384.5" x2="228.2" y2="384.5" stroke="#fff" stroke-width="0.4"/>
<text x="230.0" y="386.4" font-size="5.45" fill="#333" stroke="#333" stroke-width="0.18">0.50</text>
<line x1="221.8" y1="391.9" x2="223.0" y2="391.9" stroke="#fff" stroke-width="0.4"/>
<line x1="227.0" y1="391.9" x2="228.2" y2="391.9" stroke="#fff" stroke-width="0.4"/>
<text x="230.0" y="393.8" font-size="5.45" fill="#333" stroke="#333" stroke-width="0.18">0.25</text>
<path d="M33.6 388.3h0M33.8 387.4h0M33.9 386.8h0M34.1 386.2h0M34.2 385.5h0M34.4 384.7h0M34.5 384.0h0M34.7 383.2h0M34.8 382.6h0M34.9 382.0h0M35.0 381.4h0M35.2 380.8h0M35.3 380.1h0M35.4 379.5h0M35.6 378.8h0M35.7 378.2h0M35.8 377.6h0M36.0 376.9h0M36.1 376.3h0M36.3 375.7h0M36.4 375.1h0M36.6 374.5h0M36.7 373.9h0M36.9 373.3h0M37.0 372.7h0M37.2 372.1h0M37.3 371.5h0M37.5 370.9h0M37.7 370.3h0M37.8 369.7h0M38.0 369.1h0M38.2 368.5h0M38.4 367.9h0M38.5 367.3h0M38.7 366.7h0M38.9 366.1h0M39.1 365.5h0M39.3 364.9h0M39.4 364.3h0M39.7 363.6h0M39.9 362.8h0M40.2 362.1h0M40.4 361.4h0M40.7 360.7h0M41.0 360.0h0M41.2 359.3h0M41.4 358.7h0M41.7 358.1h0M41.9 357.5h0M42.2 356.9h0M42.4 356.4h0M42.6 355.8h0M43.0 355.1h0M43.3 354.4h0M43.6 353.7h0M44.0 353.0h0M44.3 352.4h0M44.6 351.7h0M45.0 351.1h0M45.3 350.5h0M45.7 350.0h0M46.0 349.4h0M46.3 348.9h0M46.7 348.4h0M47.0 347.9h0M47.4 347.4h0M47.9 346.8h0M48.4 346.2h0M48.9 345.6h0M49.4 345.0h0M49.9 344.4h0M50.3 343.9h0M50.7 343.4h0M51.2 343.0h0M51.6 342.5h0M52.1 342.0h0M52.6 341.5h0M53.1 341.0h0M53.6 340.5h0M54.1 340.0h0M54.5 339.6h0M55.0 339.2h0M55.5 338.7h0M56.0 338.2h0M59.7 335.2h0M63.2 331.8h0M66.8 328.8h0M69.6 326.6h0M73.1 324.4h0M34.7 388.3h0M34.9 387.5h0M35.2 386.8h0M35.5 386.1h0M35.8 385.4h0M36.1 384.6h0M36.3 384.1h0M36.6 383.5h0M36.8 383.0h0M37.1 382.4h0M37.4 381.9h0M37.7 381.3h0M38.0 380.7h0M38.3 380.2h0M38.6 379.6h0M38.9 379.1h0M39.2 378.6h0M39.5 378.0h0M39.8 377.5h0M40.3 376.9h0M40.7 376.2h0M41.1 375.7h0M41.5 375.2h0M42.0 374.7h0M42.5 374.2h0M43.0 373.6h0M43.5 373.2h0M44.0 372.7h0M44.5 372.3h0M45.0 371.8h0M45.5 371.3h0M49.2 368.4h0M52.1 366.5h0M55.5 365.0h0M59.0 363.9h0M63.4 362.2h0M68.1 360.6h0M73.1 359.3h0M31.7 381.8h0M32.0 378.8h0M32.3 375.8h0M32.6 372.8h0M33.0 369.7h0M33.4 366.7h0M33.9 363.7h0M34.3 360.8h0M34.8 357.8h0M35.4 354.8h0M35.9 351.9h0M36.5 348.9h0M37.1 346.0h0M37.8 343.0h0M38.5 340.1h0M39.2 337.2h0M39.9 334.2h0M40.7 331.3h0M33.6 384.1h0M33.9 382.5h0M34.7 379.1h0M35.1 377.4h0M35.8 374.1h0M36.2 372.4h0M37.1 369.0h0M37.5 367.4h0M38.4 364.1h0M38.8 362.4h0M39.7 359.1h0M40.2 357.4h0M41.1 354.1h0M41.6 352.4h0M42.5 349.1h0M43.0 347.5h0M44.0 344.2h0M44.5 342.5h0M45.5 339.2h0M46.0 337.6h0M47.0 334.3h0M47.5 332.7h0M48.6 329.4h0M37.3 312.8h0M41.0 313.6h0M42.7 316.0h0M44.0 315.3h0M47.7 312.8h0M36.0 324.6h0M44.7 324.6h0" stroke="#143456" stroke-width="2.0" stroke-linecap="round" fill="none"/>
<path d="M31.0 402.0h0M31.1 401.4h0M31.2 400.7h0M31.3 399.9h0M31.4 399.3h0M31.5 398.6h0M31.6 398.0h0M31.7 397.2h0M31.9 396.5h0M32.0 395.9h0M32.1 395.2h0M32.2 394.6h0M32.3 393.8h0M32.5 393.2h0M32.6 392.5h0M32.8 391.8h0M32.9 391.2h0M33.1 390.5h0M33.3 389.7h0M33.4 389.0h0M31.0 402.0h0M31.1 401.4h0M31.3 400.8h0M31.5 400.1h0M31.6 399.3h0M31.8 398.7h0M31.9 398.1h0M32.1 397.4h0M32.3 396.7h0M32.4 396.0h0M32.6 395.3h0M32.8 394.7h0M32.9 394.0h0M33.1 393.4h0M33.3 392.7h0M33.5 392.0h0M33.7 391.4h0M33.9 390.8h0M34.1 390.2h0M34.2 389.6h0M34.4 389.0h0" stroke="#4a9ee6" stroke-width="1.9" stroke-linecap="round" fill="none"/>
<circle cx="225.6" cy="233.5" r="2.2" fill="#143456"/>
<circle cx="186.3" cy="241.4" r="1.9" fill="#143456"/>
<circle cx="48.7" cy="256.4" r="0.8" fill="#143456"/>
<circle cx="61.2" cy="280.5" r="0.9" fill="#143456"/>
<circle cx="57.1" cy="288.2" r="0.9" fill="#143456"/>
<circle cx="78.9" cy="287.7" r="1.2" fill="#143456"/>
<circle cx="44.7" cy="293.6" r="0.8" fill="#143456"/>
<circle cx="68.7" cy="297.3" r="1.0" fill="#143456"/>
<circle cx="71.2" cy="295.0" r="0.9" fill="#143456"/>
<circle cx="53.2" cy="298.4" r="1.2" fill="#143456"/>
<circle cx="58.5" cy="311.5" r="1.0" fill="#143456"/>
<circle cx="94.4" cy="313.6" r="1.1" fill="#143456"/>
<circle cx="87.8" cy="316.2" r="1.1" fill="#143456"/>
<circle cx="81.3" cy="319.5" r="1.1" fill="#143456"/>
<circle cx="203.5" cy="288.5" r="1.8" fill="#143456"/>
<circle cx="159.9" cy="295.0" r="1.6" fill="#143456"/>
<circle cx="133.3" cy="300.8" r="1.3" fill="#143456"/>
<circle cx="116.6" cy="305.3" r="1.2" fill="#143456"/>
<circle cx="104.3" cy="309.3" r="1.1" fill="#143456"/>
<circle cx="95.1" cy="313.3" r="1.0" fill="#143456"/>
<circle cx="94.5" cy="352.6" r="1.1" fill="#143456"/>
<circle cx="81.5" cy="355.4" r="1.1" fill="#143456"/>
<line x1="36.0" y1="238.8" x2="48.3" y2="291.0" stroke="#262626" stroke-width="0.55"/>
<line x1="61.2" y1="271.8" x2="61.2" y2="280.5" stroke="#262626" stroke-width="0.55"/>
<line x1="57.1" y1="288.2" x2="96.8" y2="270.2" stroke="#262626" stroke-width="0.55"/>
<line x1="78.9" y1="287.7" x2="97.2" y2="277.8" stroke="#262626" stroke-width="0.55"/>
<line x1="71.2" y1="295.0" x2="101.8" y2="289.6" stroke="#262626" stroke-width="0.55"/>
<line x1="133.3" y1="300.8" x2="143.8" y2="308.1" stroke="#262626" stroke-width="0.55"/>
<line x1="116.6" y1="305.3" x2="121.7" y2="318.5" stroke="#262626" stroke-width="0.55"/>
<line x1="104.3" y1="309.3" x2="104.3" y2="329.5" stroke="#262626" stroke-width="0.55"/>
<line x1="53.2" y1="298.4" x2="86.9" y2="340.5" stroke="#262626" stroke-width="0.55"/>
<line x1="53.2" y1="298.4" x2="80.4" y2="354.5" stroke="#262626" stroke-width="0.55"/>
<line x1="52.0" y1="298.4" x2="66.3" y2="368.0" stroke="#262626" stroke-width="0.55"/>
<line x1="58.5" y1="311.5" x2="84.0" y2="331.0" stroke="#262626" stroke-width="0.55"/>
<line x1="88.0" y1="318.0" x2="99.0" y2="330.0" stroke="#262626" stroke-width="0.55"/>
<text x="23.2" y="232.4" font-size="5.3" textLength="81.3" lengthAdjust="spacingAndGlyphs" fill="#1a1a1a" stroke="#1a1a1a" stroke-width="0.18">positive regulation of cold-induced</text>
<text x="28.0" y="237.2" font-size="5.3" textLength="72.2" lengthAdjust="spacingAndGlyphs" fill="#1a1a1a" stroke="#1a1a1a" stroke-width="0.18">thermogenesis (GO:0120162)</text>
<text x="105.3" y="238.5" font-size="5.3" textLength="115.9" lengthAdjust="spacingAndGlyphs" fill="#1a1a1a" stroke="#1a1a1a" stroke-width="0.18">mitotic spindle midzone assembly (GO:0051256)</text>
<text x="136.1" y="247.0" font-size="5.3" textLength="96.5" lengthAdjust="spacingAndGlyphs" fill="#1a1a1a" stroke="#1a1a1a" stroke-width="0.18">mitotic spindle elongation (GO:0000022)</text>
<text x="156.2" y="225.1" font-size="5.3" textLength="108.4" lengthAdjust="spacingAndGlyphs" fill="#1a1a1a" stroke="#1a1a1a" stroke-width="0.18">negative regulation of stress-activated protein</text>
<text x="162.3" y="230.4" font-size="5.3" textLength="96.5" lengthAdjust="spacingAndGlyphs" fill="#1a1a1a" stroke="#1a1a1a" stroke-width="0.18">kinase signaling cascade (GO:0070303)</text>
<text x="46.2" y="253.8" font-size="5.3" textLength="109.2" lengthAdjust="spacingAndGlyphs" fill="#1a1a1a" stroke="#1a1a1a" stroke-width="0.18">regulation of cell cycle process (GO:0010564)</text>
<text x="41.5" y="261.2" font-size="5.3" fill="#1a1a1a" stroke="#1a1a1a" stroke-width="0.18">negative regulation of</text>
<text x="38.9" y="266.3" font-size="5.3" fill="#1a1a1a" stroke="#1a1a1a" stroke-width="0.18">stress-activated MAPK</text>
<text x="38.6" y="271.8" font-size="5.3" fill="#1a1a1a" stroke="#1a1a1a" stroke-width="0.18">cascade (GO:0032873)</text>
<text x="97.3" y="265.8" font-size="5.3" fill="#1a1a1a" stroke="#1a1a1a" stroke-width="0.18">regulation of double-strand</text>
<text x="97.3" y="271.8" font-size="5.3" fill="#1a1a1a" stroke="#1a1a1a" stroke-width="0.18">break repair (GO:2000779)</text>
<text x="98.0" y="277.2" font-size="5.3" fill="#1a1a1a" stroke="#1a1a1a" stroke-width="0.18">synaptic transmission,</text>
<text x="93.2" y="282.4" font-size="5.3" fill="#1a1a1a" stroke="#1a1a1a" stroke-width="0.18">cholinergic (GO:0007271)</text>
<text x="22.2" y="282.4" font-size="5.3" fill="#1a1a1a" stroke="#1a1a1a" stroke-width="0.18">positive regulation of</text>
<text x="25.1" y="287.2" font-size="5.3" fill="#1a1a1a" stroke="#1a1a1a" stroke-width="0.18">metabolic process</text>
<text x="29.9" y="292.3" font-size="5.3" fill="#1a1a1a" stroke="#1a1a1a" stroke-width="0.18">(GO:0009893)</text>
<text x="94.1" y="288.2" font-size="5.3" fill="#1a1a1a" stroke="#1a1a1a" stroke-width="0.18">positive regulation of neural precursor</text>
<text x="102.8" y="293.4" font-size="5.3" fill="#1a1a1a" stroke="#1a1a1a" stroke-width="0.18">cell proliferation (GO:2000179)</text>
<text x="72.1" y="299.3" font-size="5.3" textLength="67.4" lengthAdjust="spacingAndGlyphs" fill="#1a1a1a" stroke="#1a1a1a" stroke-width="0.18">mitotic cell cycle checkpoint</text>
<text x="77.9" y="305.1" font-size="5.3" textLength="55.7" lengthAdjust="spacingAndGlyphs" fill="#1a1a1a" stroke="#1a1a1a" stroke-width="0.18">signaling (GO:0007093)</text>
<text x="146.4" y="301.0" font-size="5.3" fill="#1a1a1a" stroke="#1a1a1a" stroke-width="0.18">positive regulation of non-membrane spanning</text>
<text x="148.2" y="306.4" font-size="5.3" fill="#1a1a1a" stroke="#1a1a1a" stroke-width="0.18">protein tyrosine kinase activity (GO:1903997)</text>
<text x="136.3" y="311.9" font-size="5.3" fill="#1a1a1a" stroke="#1a1a1a" stroke-width="0.18">regulation of non-membrane spanning</text>
<text x="128.1" y="317.3" font-size="5.3" fill="#1a1a1a" stroke="#1a1a1a" stroke-width="0.18">protein tyrosine kinase activity (GO:1903995)</text>
<text x="108.5" y="323.4" font-size="5.3" fill="#1a1a1a" stroke="#1a1a1a" stroke-width="0.18">positive regulation of membrane</text>
<text x="115.0" y="328.4" font-size="5.3" fill="#1a1a1a" stroke="#1a1a1a" stroke-width="0.18">invagination (GO:1905155)</text>
<text x="86.4" y="334.5" font-size="5.3" fill="#1a1a1a" stroke="#1a1a1a" stroke-width="0.18">positive regulation of phagocytosis,</text>
<text x="97.3" y="339.6" font-size="5.3" fill="#1a1a1a" stroke="#1a1a1a" stroke-width="0.18">engulfment (GO:0060100)</text>
<text x="81.8" y="345.4" font-size="5.3" fill="#1a1a1a" stroke="#1a1a1a" stroke-width="0.18">regulation of stress-activated</text>
<text x="80.0" y="350.5" font-size="5.3" fill="#1a1a1a" stroke="#1a1a1a" stroke-width="0.18">MAPK cascade (GO:0032872)</text>
<text x="76.0" y="361.1" font-size="5.3" fill="#1a1a1a" stroke="#1a1a1a" stroke-width="0.18">ion homeostasis</text>
<text x="78.2" y="366.0" font-size="5.3" fill="#1a1a1a" stroke="#1a1a1a" stroke-width="0.18">(GO:0050801)</text>
<text x="61.0" y="373.2" font-size="5.3" fill="#1a1a1a" stroke="#1a1a1a" stroke-width="0.18">organic hydroxy</text>
<text x="52.3" y="378.3" font-size="5.3" fill="#1a1a1a" stroke="#1a1a1a" stroke-width="0.18">compound biosynthetic</text>
<text x="52.7" y="383.8" font-size="5.3" fill="#1a1a1a" stroke="#1a1a1a" stroke-width="0.18">process (GO:1901617)</text>
<text x="190.7" y="279.7" font-size="5.3" fill="#1a1a1a" stroke="#1a1a1a" stroke-width="0.18">mature conventional dendritic</text>
<text x="187.5" y="284.6" font-size="5.3" textLength="77.1" lengthAdjust="spacingAndGlyphs" fill="#1a1a1a" stroke="#1a1a1a" stroke-width="0.18">cell differentiation (GO:0097029)</text>
<text x="206.4" y="290.4" font-size="5.3" fill="#1a1a1a" stroke="#1a1a1a" stroke-width="0.18">lipid transport across blood-</text>
<text x="216.9" y="295.7" font-size="5.3" textLength="55.0" lengthAdjust="spacingAndGlyphs" fill="#1a1a1a" stroke="#1a1a1a" stroke-width="0.18">brain barrier (GO:1990379)</text>
<text x="291.4" y="224.9" font-size="12.6" font-weight="bold" style="font-family:'Liberation Serif',serif" fill="#000">e</text>
<defs><radialGradient id="nP" cx="0.4" cy="0.35" r="0.7"><stop offset="0" stop-color="#d4d4fc"/><stop offset="0.6" stop-color="#9c9cec"/><stop offset="1" stop-color="#6c6cc4"/></radialGradient><radialGradient id="nR" cx="0.4" cy="0.35" r="0.7"><stop offset="0" stop-color="#f8a8a8"/><stop offset="0.6" stop-color="#e46060"/><stop offset="1" stop-color="#b84040"/></radialGradient><radialGradient id="nC" cx="0.4" cy="0.35" r="0.7"><stop offset="0" stop-color="#a4d8e8"/><stop offset="0.6" stop-color="#5aaccb"/><stop offset="1" stop-color="#367f9e"/></radialGradient><radialGradient id="nG" cx="0.4" cy="0.35" r="0.7"><stop offset="0" stop-color="#c0ec9c"/><stop offset="0.6" stop-color="#88cc64"/><stop offset="1" stop-color="#5ea844"/></radialGradient><radialGradient id="nM" cx="0.4" cy="0.35" r="0.7"><stop offset="0" stop-color="#d4f6e2"/><stop offset="0.6" stop-color="#98dcb8"/><stop offset="1" stop-color="#62b48a"/></radialGradient><radialGradient id="nY" cx="0.4" cy="0.35" r="0.7"><stop offset="0" stop-color="#faf0c8"/><stop offset="0.6" stop-color="#e8d498"/><stop offset="1" stop-color="#c0a868"/></radialGradient></defs>
<line x1="340.5" y1="221" x2="346.1" y2="236.5" stroke="#a8a848" stroke-width="0.5"/>
<line x1="340.5" y1="221" x2="346.1" y2="236.5" stroke="#8a8af0" stroke-width="1.5"/>
<line x1="346.1" y1="236.5" x2="351.7" y2="253.3" stroke="#9a58c4" stroke-width="0.6"/>
<line x1="346.1" y1="236.5" x2="351.7" y2="253.3" stroke="#a8a848" stroke-width="0.4"/>
<line x1="351.7" y1="253.3" x2="337.5" y2="262" stroke="#a8a848" stroke-width="0.5"/>
<line x1="337.5" y1="262" x2="320" y2="266.1" stroke="#a8a848" stroke-width="0.5"/>
<line x1="320" y1="266.1" x2="324.5" y2="282.6" stroke="#a8a848" stroke-width="0.6"/>
<line x1="305.8" y1="281.6" x2="324.5" y2="282.6" stroke="#a8a848" stroke-width="0.6"/>
<line x1="324.5" y1="282.6" x2="313.1" y2="295.3" stroke="#a8a848" stroke-width="0.5"/>
<line x1="348.9" y1="316.3" x2="354" y2="330.8" stroke="#a8a848" stroke-width="0.6"/>
<line x1="354" y1="330.8" x2="353.3" y2="345.4" stroke="#9a58c4" stroke-width="0.6"/>
<line x1="354" y1="330.8" x2="353.3" y2="345.4" stroke="#a8a848" stroke-width="0.4"/>
<line x1="349.6" y1="301.7" x2="348.9" y2="316.3" stroke="#a8a848" stroke-width="0.4"/>
<line x1="351.7" y1="253.3" x2="356" y2="276.3" stroke="#9a58c4" stroke-width="0.5"/>
<line x1="351.7" y1="253.3" x2="381" y2="254.4" stroke="#9a58c4" stroke-width="0.5"/>
<line x1="351.7" y1="253.3" x2="381" y2="254.4" stroke="#a8a848" stroke-width="0.4"/>
<line x1="351.7" y1="253.3" x2="359.7" y2="248.9" stroke="#e08080" stroke-width="0.5"/>
<line x1="324.5" y1="282.6" x2="356" y2="276.3" stroke="#a8a848" stroke-width="0.35"/>
<line x1="427.4" y1="269.4" x2="356" y2="276.3" stroke="#e08080" stroke-width="0.4"/>
<line x1="330" y1="291.7" x2="346" y2="289.5" stroke="#3c3cc8" stroke-width="0.6" stroke-dasharray="1.4 1"/>
<line x1="373.3" y1="234.6" x2="389.8" y2="232.4" stroke="#5cc4d4" stroke-width="0.6" stroke-dasharray="1.4 1"/>
<line x1="406.8" y1="237.2" x2="423.6" y2="234.5" stroke="#5cc4d4" stroke-width="0.6" stroke-dasharray="1.4 1"/>
<line x1="454.2" y1="253.8" x2="469.7" y2="251.7" stroke="#3ea03e" stroke-width="0.6" stroke-dasharray="1.4 1"/>
<line x1="469.7" y1="251.7" x2="487" y2="249.3" stroke="#3ea03e" stroke-width="0.6" stroke-dasharray="1.4 1"/>
<line x1="418.8" y1="263.7" x2="434.8" y2="261.1" stroke="#3c3cc8" stroke-width="0.6" stroke-dasharray="1.4 1"/>
<line x1="434.7" y1="310" x2="418.8" y2="312" stroke="#9a58c4" stroke-width="0.6" stroke-dasharray="1.4 1"/>
<line x1="404.9" y1="257.4" x2="421" y2="251.3" stroke="#3ea03e" stroke-width="0.6" stroke-dasharray="1.4 1"/>
<line x1="406.2" y1="242.8" x2="421" y2="251.3" stroke="#5cc4d4" stroke-width="0.6" stroke-dasharray="1.4 1"/>
<line x1="421" y1="251.3" x2="437.8" y2="253" stroke="#a8a848" stroke-width="0.6" stroke-dasharray="1.4 1"/>
<line x1="422.3" y1="243.3" x2="438.7" y2="240.9" stroke="#e08080" stroke-width="0.6" stroke-dasharray="1.4 1"/>
<line x1="437.8" y1="253" x2="454.2" y2="253.8" stroke="#e08080" stroke-width="0.6" stroke-dasharray="1.4 1"/>
<line x1="356" y1="276.3" x2="375.5" y2="268.5" stroke="#444444" stroke-width="0.5"/>
<line x1="356" y1="276.3" x2="369.7" y2="289.1" stroke="#3c3cc8" stroke-width="0.5"/>
<line x1="356" y1="276.3" x2="355.5" y2="295.9" stroke="#444444" stroke-width="0.5"/>
<line x1="356" y1="276.3" x2="396.5" y2="284.9" stroke="#3c3cc8" stroke-width="0.5"/>
<line x1="356" y1="276.3" x2="381" y2="299.5" stroke="#9a58c4" stroke-width="0.5"/>
<line x1="356" y1="276.3" x2="399.5" y2="303" stroke="#444444" stroke-width="0.5"/>
<line x1="356" y1="276.3" x2="383" y2="308" stroke="#8c3c50" stroke-width="0.5"/>
<line x1="356" y1="276.3" x2="412.9" y2="293" stroke="#a8a848" stroke-width="0.5"/>
<line x1="375.5" y1="268.5" x2="369.7" y2="289.1" stroke="#a8a848" stroke-width="0.5"/>
<line x1="375.5" y1="268.5" x2="355.5" y2="295.9" stroke="#a8a848" stroke-width="0.5"/>
<line x1="375.5" y1="268.5" x2="396.5" y2="284.9" stroke="#8c3c50" stroke-width="0.5"/>
<line x1="375.5" y1="268.5" x2="387" y2="289.7" stroke="#3c3cc8" stroke-width="0.5"/>
<line x1="375.5" y1="268.5" x2="399.5" y2="303" stroke="#9a58c4" stroke-width="0.5"/>
<line x1="375.5" y1="268.5" x2="359.1" y2="307.6" stroke="#a8a848" stroke-width="0.5"/>
<line x1="375.5" y1="268.5" x2="371.3" y2="310" stroke="#9a58c4" stroke-width="0.5"/>
<line x1="375.5" y1="268.5" x2="383" y2="308" stroke="#444444" stroke-width="0.5"/>
<line x1="402.5" y1="263.5" x2="397" y2="275.7" stroke="#a8a848" stroke-width="0.5"/>
<line x1="402.5" y1="263.5" x2="369.7" y2="289.1" stroke="#a8a848" stroke-width="0.5"/>
<line x1="402.5" y1="263.5" x2="355.5" y2="295.9" stroke="#a8a848" stroke-width="0.5"/>
<line x1="402.5" y1="263.5" x2="396.5" y2="284.9" stroke="#9a58c4" stroke-width="0.5"/>
<line x1="402.5" y1="263.5" x2="387" y2="289.7" stroke="#a8a848" stroke-width="0.5"/>
<line x1="402.5" y1="263.5" x2="399.5" y2="303" stroke="#a8a848" stroke-width="0.5"/>
<line x1="402.5" y1="263.5" x2="371.3" y2="310" stroke="#8c3c50" stroke-width="0.5"/>
<line x1="402.5" y1="263.5" x2="401" y2="311.6" stroke="#a8a848" stroke-width="0.5"/>
<line x1="402.5" y1="263.5" x2="381" y2="254.4" stroke="#a8a848" stroke-width="0.5"/>
<line x1="397" y1="275.7" x2="369.7" y2="289.1" stroke="#a8a848" stroke-width="0.5"/>
<line x1="397" y1="275.7" x2="355.5" y2="295.9" stroke="#a8a848" stroke-width="0.5"/>
<line x1="397" y1="275.7" x2="381" y2="299.5" stroke="#a8a848" stroke-width="0.5"/>
<line x1="397" y1="275.7" x2="359.1" y2="307.6" stroke="#8c3c50" stroke-width="0.5"/>
<line x1="397" y1="275.7" x2="383" y2="308" stroke="#444444" stroke-width="0.5"/>
<line x1="397" y1="275.7" x2="401" y2="311.6" stroke="#444444" stroke-width="0.5"/>
<line x1="397" y1="275.7" x2="381" y2="254.4" stroke="#a8a848" stroke-width="0.5"/>
<line x1="397" y1="275.7" x2="412.9" y2="293" stroke="#8c3c50" stroke-width="0.5"/>
<line x1="369.7" y1="289.1" x2="355.5" y2="295.9" stroke="#8c3c50" stroke-width="0.5"/>
<line x1="369.7" y1="289.1" x2="387" y2="289.7" stroke="#3c3cc8" stroke-width="0.5"/>
<line x1="369.7" y1="289.1" x2="381" y2="299.5" stroke="#a8a848" stroke-width="0.5"/>
<line x1="369.7" y1="289.1" x2="399.5" y2="303" stroke="#8c3c50" stroke-width="0.5"/>
<line x1="369.7" y1="289.1" x2="371.3" y2="310" stroke="#3c3cc8" stroke-width="0.5"/>
<line x1="369.7" y1="289.1" x2="383" y2="308" stroke="#a8a848" stroke-width="0.5"/>
<line x1="369.7" y1="289.1" x2="401" y2="311.6" stroke="#9a58c4" stroke-width="0.5"/>
<line x1="369.7" y1="289.1" x2="381" y2="254.4" stroke="#3c3cc8" stroke-width="0.5"/>
<line x1="369.7" y1="289.1" x2="412.9" y2="293" stroke="#9a58c4" stroke-width="0.5"/>
<line x1="355.5" y1="295.9" x2="396.5" y2="284.9" stroke="#a8a848" stroke-width="0.5"/>
<line x1="355.5" y1="295.9" x2="387" y2="289.7" stroke="#3c3cc8" stroke-width="0.5"/>
<line x1="355.5" y1="295.9" x2="399.5" y2="303" stroke="#9a58c4" stroke-width="0.5"/>
<line x1="355.5" y1="295.9" x2="359.1" y2="307.6" stroke="#8c3c50" stroke-width="0.5"/>
<line x1="355.5" y1="295.9" x2="371.3" y2="310" stroke="#3c3cc8" stroke-width="0.5"/>
<line x1="355.5" y1="295.9" x2="383" y2="308" stroke="#3c3cc8" stroke-width="0.5"/>
<line x1="355.5" y1="295.9" x2="401" y2="311.6" stroke="#8c3c50" stroke-width="0.5"/>
<line x1="355.5" y1="295.9" x2="381" y2="254.4" stroke="#a8a848" stroke-width="0.5"/>
<line x1="355.5" y1="295.9" x2="412.9" y2="293" stroke="#a8a848" stroke-width="0.5"/>
<line x1="396.5" y1="284.9" x2="381" y2="299.5" stroke="#a8a848" stroke-width="0.5"/>
<line x1="396.5" y1="284.9" x2="399.5" y2="303" stroke="#444444" stroke-width="0.5"/>
<line x1="396.5" y1="284.9" x2="359.1" y2="307.6" stroke="#8c3c50" stroke-width="0.5"/>
<line x1="396.5" y1="284.9" x2="383" y2="308" stroke="#8c3c50" stroke-width="0.5"/>
<line x1="396.5" y1="284.9" x2="401" y2="311.6" stroke="#a8a848" stroke-width="0.5"/>
<line x1="396.5" y1="284.9" x2="381" y2="254.4" stroke="#9a58c4" stroke-width="0.5"/>
<line x1="396.5" y1="284.9" x2="412.9" y2="293" stroke="#8c3c50" stroke-width="0.5"/>
<line x1="387" y1="289.7" x2="381" y2="299.5" stroke="#3c3cc8" stroke-width="0.5"/>
<line x1="387" y1="289.7" x2="399.5" y2="303" stroke="#444444" stroke-width="0.5"/>
<line x1="387" y1="289.7" x2="359.1" y2="307.6" stroke="#a8a848" stroke-width="0.5"/>
<line x1="387" y1="289.7" x2="371.3" y2="310" stroke="#8c3c50" stroke-width="0.5"/>
<line x1="387" y1="289.7" x2="383" y2="308" stroke="#3c3cc8" stroke-width="0.5"/>
<line x1="387" y1="289.7" x2="401" y2="311.6" stroke="#9a58c4" stroke-width="0.5"/>
<line x1="387" y1="289.7" x2="381" y2="254.4" stroke="#a8a848" stroke-width="0.5"/>
<line x1="381" y1="299.5" x2="399.5" y2="303" stroke="#8c3c50" stroke-width="0.5"/>
<line x1="381" y1="299.5" x2="359.1" y2="307.6" stroke="#a8a848" stroke-width="0.5"/>
<line x1="381" y1="299.5" x2="371.3" y2="310" stroke="#9a58c4" stroke-width="0.5"/>
<line x1="381" y1="299.5" x2="383" y2="308" stroke="#3c3cc8" stroke-width="0.5"/>
<line x1="381" y1="299.5" x2="381" y2="254.4" stroke="#a8a848" stroke-width="0.5"/>
<line x1="399.5" y1="303" x2="401" y2="311.6" stroke="#a8a848" stroke-width="0.5"/>
<line x1="399.5" y1="303" x2="381" y2="254.4" stroke="#a8a848" stroke-width="0.5"/>
<line x1="399.5" y1="303" x2="412.9" y2="293" stroke="#9a58c4" stroke-width="0.5"/>
<line x1="359.1" y1="307.6" x2="401" y2="311.6" stroke="#a8a848" stroke-width="0.5"/>
<line x1="359.1" y1="307.6" x2="381" y2="254.4" stroke="#9a58c4" stroke-width="0.5"/>
<line x1="359.1" y1="307.6" x2="412.9" y2="293" stroke="#a8a848" stroke-width="0.5"/>
<line x1="371.3" y1="310" x2="383" y2="308" stroke="#444444" stroke-width="0.5"/>
<line x1="371.3" y1="310" x2="401" y2="311.6" stroke="#a8a848" stroke-width="0.5"/>
<line x1="401" y1="311.6" x2="381" y2="254.4" stroke="#8c3c50" stroke-width="0.5"/>
<line x1="412.9" y1="293" x2="425.4" y2="282.4" stroke="#3c3cc8" stroke-width="0.6"/>
<line x1="412.9" y1="293" x2="419.7" y2="304.9" stroke="#9a58c4" stroke-width="0.6"/>
<line x1="397" y1="275.7" x2="425.4" y2="282.4" stroke="#9a58c4" stroke-width="0.6"/>
<line x1="396.5" y1="284.9" x2="412.9" y2="293" stroke="#9a58c4" stroke-width="0.6"/>
<line x1="382.7" y1="326.9" x2="371.3" y2="310" stroke="#9a58c4" stroke-width="0.6"/>
<line x1="382.7" y1="326.9" x2="383" y2="308" stroke="#8a8af0" stroke-width="0.6"/>
<line x1="396.7" y1="319.7" x2="388.2" y2="332.7" stroke="#8a8af0" stroke-width="0.6"/>
<line x1="396.7" y1="319.7" x2="405.1" y2="332.3" stroke="#3c3cc8" stroke-width="0.6"/>
<line x1="388.2" y1="332.7" x2="405.1" y2="332.3" stroke="#8a8af0" stroke-width="0.6"/>
<line x1="356" y1="276.3" x2="346" y2="289.5" stroke="#a8a848" stroke-width="0.6"/>
<line x1="359.1" y1="307.6" x2="355.5" y2="295.9" stroke="#a8a848" stroke-width="0.6"/>
<line x1="381" y1="254.4" x2="402.5" y2="263.5" stroke="#a8a848" stroke-width="0.6"/>
<line x1="412.9" y1="293" x2="399.5" y2="303" stroke="#a8a848" stroke-width="0.6"/>
<line x1="418.8" y1="312" x2="412.6" y2="318.8" stroke="#a8a848" stroke-width="0.6"/>
<line x1="412.6" y1="318.8" x2="438.8" y2="331.4" stroke="#5cc4d4" stroke-width="0.6"/>
<line x1="429.2" y1="318.2" x2="438.8" y2="331.4" stroke="#a8a848" stroke-width="0.6"/>
<line x1="397" y1="275.7" x2="427.4" y2="269.4" stroke="#e08080" stroke-width="0.6"/>
<line x1="438.8" y1="331.4" x2="458.3" y2="335.5" stroke="#3c3cc8" stroke-width="0.5"/>
<line x1="438.8" y1="331.4" x2="426" y2="343.1" stroke="#8a8af0" stroke-width="0.5"/>
<line x1="438.8" y1="331.4" x2="447" y2="348" stroke="#3c3cc8" stroke-width="0.5"/>
<line x1="438.8" y1="331.4" x2="445.2" y2="358.3" stroke="#3c3cc8" stroke-width="0.5"/>
<line x1="438.8" y1="331.4" x2="474.2" y2="366" stroke="#5cc4d4" stroke-width="0.5"/>
<line x1="438.8" y1="331.4" x2="456.3" y2="369.3" stroke="#3c3cc8" stroke-width="0.5"/>
<line x1="438.8" y1="331.4" x2="469.6" y2="370.6" stroke="#3c3cc8" stroke-width="0.5"/>
<line x1="438.8" y1="331.4" x2="429.5" y2="374.9" stroke="#3c3cc8" stroke-width="0.5"/>
<line x1="438.8" y1="331.4" x2="446.8" y2="379.8" stroke="#3ea03e" stroke-width="0.5"/>
<line x1="438.8" y1="331.4" x2="422.5" y2="361.5" stroke="#5cc4d4" stroke-width="0.5"/>
<line x1="458.3" y1="335.5" x2="483.2" y2="338.9" stroke="#3c3cc8" stroke-width="0.5"/>
<line x1="458.3" y1="335.5" x2="426" y2="343.1" stroke="#3ea03e" stroke-width="0.5"/>
<line x1="458.3" y1="335.5" x2="454.6" y2="344.8" stroke="#3ea03e" stroke-width="0.5"/>
<line x1="458.3" y1="335.5" x2="467.6" y2="356.2" stroke="#5cc4d4" stroke-width="0.5"/>
<line x1="458.3" y1="335.5" x2="488.1" y2="354.7" stroke="#3ea03e" stroke-width="0.5"/>
<line x1="458.3" y1="335.5" x2="488.3" y2="364.4" stroke="#9a58c4" stroke-width="0.5"/>
<line x1="458.3" y1="335.5" x2="474.2" y2="366" stroke="#8a8af0" stroke-width="0.5"/>
<line x1="458.3" y1="335.5" x2="429.5" y2="374.9" stroke="#3ea03e" stroke-width="0.5"/>
<line x1="458.3" y1="335.5" x2="446.8" y2="379.8" stroke="#444444" stroke-width="0.5"/>
<line x1="458.3" y1="335.5" x2="477.7" y2="385.6" stroke="#3ea03e" stroke-width="0.5"/>
<line x1="458.3" y1="335.5" x2="422.5" y2="361.5" stroke="#3c3cc8" stroke-width="0.5"/>
<line x1="483.2" y1="338.9" x2="454.6" y2="344.8" stroke="#3ea03e" stroke-width="0.5"/>
<line x1="483.2" y1="338.9" x2="445.2" y2="358.3" stroke="#5cc4d4" stroke-width="0.5"/>
<line x1="483.2" y1="338.9" x2="467.6" y2="356.2" stroke="#3ea03e" stroke-width="0.5"/>
<line x1="483.2" y1="338.9" x2="488.3" y2="364.4" stroke="#5cc4d4" stroke-width="0.5"/>
<line x1="483.2" y1="338.9" x2="446.8" y2="379.8" stroke="#3c3cc8" stroke-width="0.5"/>
<line x1="483.2" y1="338.9" x2="477.7" y2="385.6" stroke="#3c3cc8" stroke-width="0.5"/>
<line x1="426" y1="343.1" x2="447" y2="348" stroke="#444444" stroke-width="0.5"/>
<line x1="426" y1="343.1" x2="454.6" y2="344.8" stroke="#3c3cc8" stroke-width="0.5"/>
<line x1="426" y1="343.1" x2="467.6" y2="356.2" stroke="#3ea03e" stroke-width="0.5"/>
<line x1="426" y1="343.1" x2="488.1" y2="354.7" stroke="#9a58c4" stroke-width="0.5"/>
<line x1="426" y1="343.1" x2="488.3" y2="364.4" stroke="#3ea03e" stroke-width="0.5"/>
<line x1="426" y1="343.1" x2="469.6" y2="370.6" stroke="#3c3cc8" stroke-width="0.5"/>
<line x1="447" y1="348" x2="445.2" y2="358.3" stroke="#5cc4d4" stroke-width="0.5"/>
<line x1="447" y1="348" x2="467.6" y2="356.2" stroke="#3c3cc8" stroke-width="0.5"/>
<line x1="447" y1="348" x2="488.3" y2="364.4" stroke="#3c3cc8" stroke-width="0.5"/>
<line x1="447" y1="348" x2="474.2" y2="366" stroke="#9a58c4" stroke-width="0.5"/>
<line x1="447" y1="348" x2="469.6" y2="370.6" stroke="#3ea03e" stroke-width="0.5"/>
<line x1="447" y1="348" x2="429.5" y2="374.9" stroke="#3ea03e" stroke-width="0.5"/>
<line x1="447" y1="348" x2="446.8" y2="379.8" stroke="#8a8af0" stroke-width="0.5"/>
<line x1="447" y1="348" x2="477.7" y2="385.6" stroke="#5cc4d4" stroke-width="0.5"/>
<line x1="447" y1="348" x2="422.5" y2="361.5" stroke="#3c3cc8" stroke-width="0.5"/>
<line x1="454.6" y1="344.8" x2="445.2" y2="358.3" stroke="#444444" stroke-width="0.5"/>
<line x1="454.6" y1="344.8" x2="467.6" y2="356.2" stroke="#3ea03e" stroke-width="0.5"/>
<line x1="454.6" y1="344.8" x2="488.1" y2="354.7" stroke="#3c3cc8" stroke-width="0.5"/>
<line x1="454.6" y1="344.8" x2="488.3" y2="364.4" stroke="#8a8af0" stroke-width="0.5"/>
<line x1="454.6" y1="344.8" x2="469.6" y2="370.6" stroke="#444444" stroke-width="0.5"/>
<line x1="454.6" y1="344.8" x2="429.5" y2="374.9" stroke="#3c3cc8" stroke-width="0.5"/>
<line x1="454.6" y1="344.8" x2="446.8" y2="379.8" stroke="#3c3cc8" stroke-width="0.5"/>
<line x1="454.6" y1="344.8" x2="477.7" y2="385.6" stroke="#444444" stroke-width="0.5"/>
<line x1="454.6" y1="344.8" x2="422.5" y2="361.5" stroke="#9a58c4" stroke-width="0.5"/>
<line x1="445.2" y1="358.3" x2="467.6" y2="356.2" stroke="#3c3cc8" stroke-width="0.5"/>
<line x1="445.2" y1="358.3" x2="488.1" y2="354.7" stroke="#3c3cc8" stroke-width="0.5"/>
<line x1="445.2" y1="358.3" x2="488.3" y2="364.4" stroke="#3c3cc8" stroke-width="0.5"/>
<line x1="445.2" y1="358.3" x2="474.2" y2="366" stroke="#444444" stroke-width="0.5"/>
<line x1="445.2" y1="358.3" x2="429.5" y2="374.9" stroke="#5cc4d4" stroke-width="0.5"/>
<line x1="445.2" y1="358.3" x2="477.7" y2="385.6" stroke="#3c3cc8" stroke-width="0.5"/>
<line x1="467.6" y1="356.2" x2="488.1" y2="354.7" stroke="#9a58c4" stroke-width="0.5"/>
<line x1="467.6" y1="356.2" x2="474.2" y2="366" stroke="#3ea03e" stroke-width="0.5"/>
<line x1="467.6" y1="356.2" x2="456.3" y2="369.3" stroke="#9a58c4" stroke-width="0.5"/>
<line x1="467.6" y1="356.2" x2="469.6" y2="370.6" stroke="#8a8af0" stroke-width="0.5"/>
<line x1="467.6" y1="356.2" x2="422.5" y2="361.5" stroke="#3ea03e" stroke-width="0.5"/>
<line x1="488.1" y1="354.7" x2="474.2" y2="366" stroke="#5cc4d4" stroke-width="0.5"/>
<line x1="488.1" y1="354.7" x2="456.3" y2="369.3" stroke="#3c3cc8" stroke-width="0.5"/>
<line x1="488.1" y1="354.7" x2="469.6" y2="370.6" stroke="#8a8af0" stroke-width="0.5"/>
<line x1="488.1" y1="354.7" x2="429.5" y2="374.9" stroke="#3c3cc8" stroke-width="0.5"/>
<line x1="488.1" y1="354.7" x2="446.8" y2="379.8" stroke="#8a8af0" stroke-width="0.5"/>
<line x1="488.1" y1="354.7" x2="477.7" y2="385.6" stroke="#3c3cc8" stroke-width="0.5"/>
<line x1="488.1" y1="354.7" x2="422.5" y2="361.5" stroke="#3ea03e" stroke-width="0.5"/>
<line x1="488.3" y1="364.4" x2="474.2" y2="366" stroke="#5cc4d4" stroke-width="0.5"/>
<line x1="488.3" y1="364.4" x2="456.3" y2="369.3" stroke="#8a8af0" stroke-width="0.5"/>
<line x1="488.3" y1="364.4" x2="469.6" y2="370.6" stroke="#5cc4d4" stroke-width="0.5"/>
<line x1="488.3" y1="364.4" x2="429.5" y2="374.9" stroke="#444444" stroke-width="0.5"/>
<line x1="488.3" y1="364.4" x2="446.8" y2="379.8" stroke="#5cc4d4" stroke-width="0.5"/>
<line x1="488.3" y1="364.4" x2="477.7" y2="385.6" stroke="#3c3cc8" stroke-width="0.5"/>
<line x1="488.3" y1="364.4" x2="422.5" y2="361.5" stroke="#3c3cc8" stroke-width="0.5"/>
<line x1="474.2" y1="366" x2="469.6" y2="370.6" stroke="#3c3cc8" stroke-width="0.5"/>
<line x1="474.2" y1="366" x2="429.5" y2="374.9" stroke="#3ea03e" stroke-width="0.5"/>
<line x1="474.2" y1="366" x2="446.8" y2="379.8" stroke="#9a58c4" stroke-width="0.5"/>
<line x1="474.2" y1="366" x2="477.7" y2="385.6" stroke="#444444" stroke-width="0.5"/>
<line x1="474.2" y1="366" x2="422.5" y2="361.5" stroke="#5cc4d4" stroke-width="0.5"/>
<line x1="456.3" y1="369.3" x2="469.6" y2="370.6" stroke="#3c3cc8" stroke-width="0.5"/>
<line x1="469.6" y1="370.6" x2="446.8" y2="379.8" stroke="#8a8af0" stroke-width="0.5"/>
<line x1="429.5" y1="374.9" x2="446.8" y2="379.8" stroke="#3ea03e" stroke-width="0.5"/>
<line x1="429.5" y1="374.9" x2="477.7" y2="385.6" stroke="#3ea03e" stroke-width="0.5"/>
<line x1="429.5" y1="374.9" x2="422.5" y2="361.5" stroke="#444444" stroke-width="0.5"/>
<line x1="446.8" y1="379.8" x2="422.5" y2="361.5" stroke="#444444" stroke-width="0.5"/>
<line x1="483.2" y1="338.9" x2="486.2" y2="314" stroke="#3ea03e" stroke-width="0.6"/>
<line x1="483.2" y1="338.9" x2="500.3" y2="318.6" stroke="#3ea03e" stroke-width="0.6"/>
<line x1="483.2" y1="338.9" x2="513.5" y2="339.8" stroke="#3ea03e" stroke-width="0.6"/>
<line x1="486.2" y1="314" x2="500.3" y2="318.6" stroke="#a8a848" stroke-width="0.6"/>
<line x1="512" y1="306.9" x2="500.3" y2="318.6" stroke="#a8a848" stroke-width="0.6"/>
<line x1="499.2" y1="378" x2="488.3" y2="364.4" stroke="#3ea03e" stroke-width="0.6"/>
<line x1="518.2" y1="371.8" x2="488.3" y2="364.4" stroke="#3ea03e" stroke-width="0.6"/>
<line x1="406.7" y1="343.4" x2="426" y2="343.1" stroke="#9a58c4" stroke-width="0.6"/>
<line x1="397.4" y1="370.4" x2="385.2" y2="382" stroke="#a8a848" stroke-width="0.6"/>
<line x1="397.4" y1="370.4" x2="402.3" y2="382.3" stroke="#3ea03e" stroke-width="0.6"/>
<line x1="385.2" y1="382" x2="368.9" y2="382.3" stroke="#3ea03e" stroke-width="0.6"/>
<line x1="397.4" y1="370.4" x2="429.5" y2="374.9" stroke="#e08080" stroke-width="0.6"/>
<line x1="422.5" y1="361.5" x2="446.8" y2="379.8" stroke="#3ea03e" stroke-width="0.6"/>
<line x1="483.2" y1="338.9" x2="467.6" y2="356.2" stroke="#3ea03e" stroke-width="0.6"/>
<line x1="483.2" y1="338.9" x2="488.1" y2="354.7" stroke="#3ea03e" stroke-width="0.6"/>
<circle cx="340.5" cy="221" r="2.7" fill="url(#nP)" stroke="#6c6cc4" stroke-width="0.45"/>
<circle cx="346.1" cy="236.5" r="2.7" fill="url(#nP)" stroke="#6c6cc4" stroke-width="0.45"/>
<circle cx="351.7" cy="253.3" r="2.7" fill="url(#nP)" stroke="#6c6cc4" stroke-width="0.45"/>
<circle cx="337.5" cy="262" r="2.7" fill="url(#nP)" stroke="#6c6cc4" stroke-width="0.45"/>
<circle cx="320" cy="266.1" r="2.7" fill="url(#nP)" stroke="#6c6cc4" stroke-width="0.45"/>
<circle cx="305.8" cy="281.6" r="2.7" fill="url(#nP)" stroke="#6c6cc4" stroke-width="0.45"/>
<circle cx="324.5" cy="282.6" r="2.7" fill="url(#nR)" stroke="#b84040" stroke-width="0.45"/>
<circle cx="330" cy="291.7" r="2.7" fill="url(#nR)" stroke="#b84040" stroke-width="0.45"/>
<circle cx="313.1" cy="295.3" r="2.7" fill="url(#nR)" stroke="#b84040" stroke-width="0.45"/>
<circle cx="349.6" cy="301.7" r="2.7" fill="url(#nR)" stroke="#b84040" stroke-width="0.45"/>
<circle cx="348.9" cy="316.3" r="2.7" fill="url(#nR)" stroke="#b84040" stroke-width="0.45"/>
<circle cx="354" cy="330.8" r="2.7" fill="url(#nR)" stroke="#b84040" stroke-width="0.45"/>
<circle cx="353.3" cy="345.4" r="2.7" fill="url(#nR)" stroke="#b84040" stroke-width="0.45"/>
<circle cx="381" cy="254.4" r="2.7" fill="url(#nC)" stroke="#367f9e" stroke-width="0.45"/>
<circle cx="402.5" cy="263.5" r="2.7" fill="url(#nC)" stroke="#367f9e" stroke-width="0.45"/>
<circle cx="356" cy="276.3" r="2.7" fill="url(#nC)" stroke="#367f9e" stroke-width="0.45"/>
<circle cx="375.5" cy="268.5" r="2.7" fill="url(#nC)" stroke="#367f9e" stroke-width="0.45"/>
<circle cx="397" cy="275.7" r="2.7" fill="url(#nC)" stroke="#367f9e" stroke-width="0.45"/>
<circle cx="369.7" cy="289.1" r="2.7" fill="url(#nC)" stroke="#367f9e" stroke-width="0.45"/>
<circle cx="346" cy="289.5" r="2.7" fill="url(#nC)" stroke="#367f9e" stroke-width="0.45"/>
<circle cx="355.5" cy="295.9" r="2.7" fill="url(#nC)" stroke="#367f9e" stroke-width="0.45"/>
<circle cx="396.5" cy="284.9" r="2.7" fill="url(#nC)" stroke="#367f9e" stroke-width="0.45"/>
<circle cx="387" cy="289.7" r="2.7" fill="url(#nC)" stroke="#367f9e" stroke-width="0.45"/>
<circle cx="381" cy="299.5" r="2.7" fill="url(#nC)" stroke="#367f9e" stroke-width="0.45"/>
<circle cx="399.5" cy="303" r="2.7" fill="url(#nC)" stroke="#367f9e" stroke-width="0.45"/>
<circle cx="359.1" cy="307.6" r="2.7" fill="url(#nC)" stroke="#367f9e" stroke-width="0.45"/>
<circle cx="371.3" cy="310" r="2.7" fill="url(#nC)" stroke="#367f9e" stroke-width="0.45"/>
<circle cx="383" cy="308" r="2.7" fill="url(#nC)" stroke="#367f9e" stroke-width="0.45"/>
<circle cx="401" cy="311.6" r="2.7" fill="url(#nC)" stroke="#367f9e" stroke-width="0.45"/>
<circle cx="382.7" cy="326.9" r="2.7" fill="url(#nC)" stroke="#367f9e" stroke-width="0.45"/>
<circle cx="396.7" cy="319.7" r="2.7" fill="url(#nC)" stroke="#367f9e" stroke-width="0.45"/>
<circle cx="388.2" cy="332.7" r="2.7" fill="url(#nC)" stroke="#367f9e" stroke-width="0.45"/>
<circle cx="405.1" cy="332.3" r="2.7" fill="url(#nC)" stroke="#367f9e" stroke-width="0.45"/>
<circle cx="412.9" cy="293" r="2.7" fill="url(#nC)" stroke="#367f9e" stroke-width="0.45"/>
<circle cx="419.7" cy="304.9" r="2.7" fill="url(#nC)" stroke="#367f9e" stroke-width="0.45"/>
<circle cx="434.7" cy="310" r="2.7" fill="url(#nC)" stroke="#367f9e" stroke-width="0.45"/>
<circle cx="418.8" cy="312" r="2.7" fill="url(#nC)" stroke="#367f9e" stroke-width="0.45"/>
<circle cx="412.6" cy="318.8" r="2.7" fill="url(#nC)" stroke="#367f9e" stroke-width="0.45"/>
<circle cx="429.2" cy="318.2" r="2.7" fill="url(#nC)" stroke="#367f9e" stroke-width="0.45"/>
<circle cx="404.9" cy="257.4" r="2.7" fill="url(#nM)" stroke="#62b48a" stroke-width="0.45"/>
<circle cx="423.6" cy="234.5" r="2.7" fill="url(#nM)" stroke="#62b48a" stroke-width="0.45"/>
<circle cx="422.3" cy="243.3" r="2.7" fill="url(#nM)" stroke="#62b48a" stroke-width="0.45"/>
<circle cx="438.7" cy="240.9" r="2.7" fill="url(#nM)" stroke="#62b48a" stroke-width="0.45"/>
<circle cx="421" cy="251.3" r="2.7" fill="url(#nM)" stroke="#62b48a" stroke-width="0.45"/>
<circle cx="437.8" cy="253" r="2.7" fill="url(#nM)" stroke="#62b48a" stroke-width="0.45"/>
<circle cx="454.2" cy="253.8" r="2.7" fill="url(#nM)" stroke="#62b48a" stroke-width="0.45"/>
<circle cx="469.7" cy="251.7" r="2.7" fill="url(#nM)" stroke="#62b48a" stroke-width="0.45"/>
<circle cx="487" cy="249.3" r="2.7" fill="url(#nM)" stroke="#62b48a" stroke-width="0.45"/>
<circle cx="418.8" cy="263.7" r="2.7" fill="url(#nM)" stroke="#62b48a" stroke-width="0.45"/>
<circle cx="434.8" cy="261.1" r="2.7" fill="url(#nM)" stroke="#62b48a" stroke-width="0.45"/>
<circle cx="427.4" cy="269.4" r="2.7" fill="url(#nM)" stroke="#62b48a" stroke-width="0.45"/>
<circle cx="425.4" cy="282.4" r="2.7" fill="url(#nM)" stroke="#62b48a" stroke-width="0.45"/>
<circle cx="373.3" cy="234.6" r="2.7" fill="url(#nY)" stroke="#c0a868" stroke-width="0.45"/>
<circle cx="389.8" cy="232.4" r="2.7" fill="url(#nY)" stroke="#c0a868" stroke-width="0.45"/>
<circle cx="390.3" cy="238.9" r="2.7" fill="url(#nY)" stroke="#c0a868" stroke-width="0.45"/>
<circle cx="359.7" cy="248.9" r="2.7" fill="url(#nY)" stroke="#c0a868" stroke-width="0.45"/>
<circle cx="406.8" cy="237.2" r="2.7" fill="url(#nY)" stroke="#c0a868" stroke-width="0.45"/>
<circle cx="406.2" cy="242.8" r="2.7" fill="url(#nY)" stroke="#c0a868" stroke-width="0.45"/>
<circle cx="512" cy="306.9" r="2.7" fill="url(#nG)" stroke="#5ea844" stroke-width="0.45"/>
<circle cx="486.2" cy="314" r="2.7" fill="url(#nG)" stroke="#5ea844" stroke-width="0.45"/>
<circle cx="500.3" cy="318.6" r="2.7" fill="url(#nG)" stroke="#5ea844" stroke-width="0.45"/>
<circle cx="438.8" cy="331.4" r="2.7" fill="url(#nG)" stroke="#5ea844" stroke-width="0.45"/>
<circle cx="458.3" cy="335.5" r="2.7" fill="url(#nG)" stroke="#5ea844" stroke-width="0.45"/>
<circle cx="483.2" cy="338.9" r="2.7" fill="url(#nG)" stroke="#5ea844" stroke-width="0.45"/>
<circle cx="513.5" cy="339.8" r="2.7" fill="url(#nG)" stroke="#5ea844" stroke-width="0.45"/>
<circle cx="426" cy="343.1" r="2.7" fill="url(#nG)" stroke="#5ea844" stroke-width="0.45"/>
<circle cx="406.7" cy="343.4" r="2.7" fill="url(#nG)" stroke="#5ea844" stroke-width="0.45"/>
<circle cx="447" cy="348" r="2.7" fill="url(#nG)" stroke="#5ea844" stroke-width="0.45"/>
<circle cx="454.6" cy="344.8" r="2.7" fill="url(#nG)" stroke="#5ea844" stroke-width="0.45"/>
<circle cx="445.2" cy="358.3" r="2.7" fill="url(#nG)" stroke="#5ea844" stroke-width="0.45"/>
<circle cx="467.6" cy="356.2" r="2.7" fill="url(#nG)" stroke="#5ea844" stroke-width="0.45"/>
<circle cx="488.1" cy="354.7" r="2.7" fill="url(#nG)" stroke="#5ea844" stroke-width="0.45"/>
<circle cx="488.3" cy="364.4" r="2.7" fill="url(#nG)" stroke="#5ea844" stroke-width="0.45"/>
<circle cx="474.2" cy="366" r="2.7" fill="url(#nG)" stroke="#5ea844" stroke-width="0.45"/>
<circle cx="456.3" cy="369.3" r="2.7" fill="url(#nG)" stroke="#5ea844" stroke-width="0.45"/>
<circle cx="469.6" cy="370.6" r="2.7" fill="url(#nG)" stroke="#5ea844" stroke-width="0.45"/>
<circle cx="499.2" cy="378" r="2.7" fill="url(#nG)" stroke="#5ea844" stroke-width="0.45"/>
<circle cx="518.2" cy="371.8" r="2.7" fill="url(#nG)" stroke="#5ea844" stroke-width="0.45"/>
<circle cx="477.7" cy="385.6" r="2.7" fill="url(#nG)" stroke="#5ea844" stroke-width="0.45"/>
<circle cx="446.8" cy="379.8" r="2.7" fill="url(#nG)" stroke="#5ea844" stroke-width="0.45"/>
<circle cx="429.5" cy="374.9" r="2.7" fill="url(#nG)" stroke="#5ea844" stroke-width="0.45"/>
<circle cx="422.5" cy="361.5" r="2.7" fill="url(#nG)" stroke="#5ea844" stroke-width="0.45"/>
<circle cx="397.4" cy="370.4" r="2.7" fill="url(#nG)" stroke="#5ea844" stroke-width="0.45"/>
<circle cx="385.2" cy="382" r="2.7" fill="url(#nG)" stroke="#5ea844" stroke-width="0.45"/>
<circle cx="368.9" cy="382.3" r="2.7" fill="url(#nG)" stroke="#5ea844" stroke-width="0.45"/>
<circle cx="402.3" cy="382.3" r="2.7" fill="url(#nG)" stroke="#5ea844" stroke-width="0.45"/>
<text x="343.7" y="221.3" font-size="4.3" fill="#222" stroke="#222" stroke-width="0.18">Hsph1</text>
<text x="349.3" y="236.8" font-size="4.3" fill="#222" stroke="#222" stroke-width="0.18">Hspa1b</text>
<text x="351.7" y="259.8" font-size="4.3" text-anchor="middle" fill="#222" stroke="#222" stroke-width="0.18">Myc</text>
<text x="337.5" y="268.5" font-size="4.3" text-anchor="middle" fill="#222" stroke="#222" stroke-width="0.18">Ptpn1</text>
<text x="320.0" y="263.0" font-size="4.3" text-anchor="middle" fill="#222" stroke="#222" stroke-width="0.18">Nf5a</text>
<text x="305.8" y="288.1" font-size="4.3" text-anchor="middle" fill="#222" stroke="#222" stroke-width="0.18">Serpinb1a</text>
<text x="327.7" y="282.9" font-size="4.3" fill="#222" stroke="#222" stroke-width="0.18">Cd4</text>
<text x="330.0" y="298.2" font-size="4.3" text-anchor="middle" fill="#222" stroke="#222" stroke-width="0.18">Mt1</text>
<text x="313.1" y="301.8" font-size="4.3" text-anchor="middle" fill="#222" stroke="#222" stroke-width="0.18">Il7</text>
<text x="346.3" y="303.5" font-size="4.3" text-anchor="end" fill="#222" stroke="#222" stroke-width="0.18">Sdf2l1</text>
<text x="345.6" y="318.1" font-size="4.3" text-anchor="end" fill="#222" stroke="#222" stroke-width="0.18">Creld2</text>
<text x="350.7" y="332.6" font-size="4.3" text-anchor="end" fill="#222" stroke="#222" stroke-width="0.18">Derl3</text>
<text x="353.3" y="351.9" font-size="4.3" text-anchor="middle" fill="#222" stroke="#222" stroke-width="0.18">Syvn1</text>
<text x="384.2" y="254.7" font-size="4.3" fill="#222" stroke="#222" stroke-width="0.18">Ccne1</text>
<text x="406.3" y="270.0" font-size="4.3" text-anchor="middle" fill="#222" stroke="#222" stroke-width="0.18">Cenpm</text>
<text x="352.7" y="278.1" font-size="4.3" text-anchor="end" fill="#222" stroke="#222" stroke-width="0.18">Mki67</text>
<text x="375.5" y="275.0" font-size="4.3" text-anchor="middle" fill="#222" stroke="#222" stroke-width="0.18">Foxm1</text>
<text x="400.2" y="276.0" font-size="4.3" fill="#222" stroke="#222" stroke-width="0.18">Chek1</text>
<text x="369.7" y="286.0" font-size="4.3" text-anchor="middle" fill="#222" stroke="#222" stroke-width="0.18">Spag5</text>
<text x="346.0" y="286.4" font-size="4.3" text-anchor="middle" fill="#222" stroke="#222" stroke-width="0.18">Mt2</text>
<text x="355.5" y="292.8" font-size="4.3" text-anchor="middle" fill="#222" stroke="#222" stroke-width="0.18">Spc25</text>
<text x="399.7" y="285.2" font-size="4.3" fill="#222" stroke="#222" stroke-width="0.18">Top2a</text>
<text x="387.0" y="296.2" font-size="4.3" text-anchor="middle" fill="#222" stroke="#222" stroke-width="0.18">Kif20b</text>
<text x="384.2" y="299.8" font-size="4.3" fill="#222" stroke="#222" stroke-width="0.18">Uhrf1</text>
<text x="402.7" y="303.3" font-size="4.3" fill="#222" stroke="#222" stroke-width="0.18">Esco2</text>
<text x="355.8" y="309.4" font-size="4.3" text-anchor="end" fill="#222" stroke="#222" stroke-width="0.18">Ckap2l</text>
<text x="371.3" y="316.5" font-size="4.3" text-anchor="middle" fill="#222" stroke="#222" stroke-width="0.18">Plk1</text>
<text x="383.0" y="314.5" font-size="4.3" text-anchor="middle" fill="#222" stroke="#222" stroke-width="0.18">Racgap1</text>
<text x="404.2" y="311.9" font-size="4.3" fill="#222" stroke="#222" stroke-width="0.18">Dtl</text>
<text x="379.4" y="328.7" font-size="4.3" text-anchor="end" fill="#222" stroke="#222" stroke-width="0.18">Pbk</text>
<text x="396.7" y="326.2" font-size="4.3" text-anchor="middle" fill="#222" stroke="#222" stroke-width="0.18">Serpina1b</text>
<text x="388.2" y="339.2" font-size="4.3" text-anchor="middle" fill="#222" stroke="#222" stroke-width="0.18">Serpina1a</text>
<text x="408.3" y="332.6" font-size="4.3" fill="#222" stroke="#222" stroke-width="0.18">Serpina1c</text>
<text x="416.1" y="293.3" font-size="4.3" fill="#222" stroke="#222" stroke-width="0.18">Rad51</text>
<text x="422.9" y="305.2" font-size="4.3" fill="#222" stroke="#222" stroke-width="0.18">Fignl1</text>
<text x="437.9" y="310.3" font-size="4.3" fill="#222" stroke="#222" stroke-width="0.18">Ell3</text>
<text x="422.0" y="312.3" font-size="4.3" fill="#222" stroke="#222" stroke-width="0.18">Lama3</text>
<text x="416.1" y="325.3" font-size="4.3" text-anchor="middle" fill="#222" stroke="#222" stroke-width="0.18">Cyp7b1</text>
<text x="432.4" y="318.5" font-size="4.3" fill="#222" stroke="#222" stroke-width="0.18">Slco1a</text>
<text x="409.7" y="254.7" font-size="4.3" text-anchor="middle" fill="#222" stroke="#222" stroke-width="0.18">Cnn2</text>
<text x="426.8" y="234.8" font-size="4.3" fill="#222" stroke="#222" stroke-width="0.18">Adamts6</text>
<text x="427.5" y="241.4" font-size="4.3" text-anchor="middle" fill="#222" stroke="#222" stroke-width="0.18">Sgsl</text>
<text x="441.9" y="241.2" font-size="4.3" fill="#222" stroke="#222" stroke-width="0.18">Prtn3</text>
<text x="424.2" y="251.6" font-size="4.3" fill="#222" stroke="#222" stroke-width="0.18">Saa1</text>
<text x="441.0" y="253.3" font-size="4.3" fill="#222" stroke="#222" stroke-width="0.18">Lcn2</text>
<text x="454.2" y="250.7" font-size="4.3" text-anchor="middle" fill="#222" stroke="#222" stroke-width="0.18">Lrg1</text>
<text x="469.7" y="248.6" font-size="4.3" text-anchor="middle" fill="#222" stroke="#222" stroke-width="0.18">Gpc3</text>
<text x="487.0" y="255.8" font-size="4.3" text-anchor="middle" fill="#222" stroke="#222" stroke-width="0.18">Cspg5</text>
<text x="418.8" y="260.6" font-size="4.3" text-anchor="middle" fill="#222" stroke="#222" stroke-width="0.18">Chrna4</text>
<text x="438.0" y="261.4" font-size="4.3" fill="#222" stroke="#222" stroke-width="0.18">Chrnb1</text>
<text x="430.6" y="269.7" font-size="4.3" fill="#222" stroke="#222" stroke-width="0.18">Alad2</text>
<text x="428.6" y="282.7" font-size="4.3" fill="#222" stroke="#222" stroke-width="0.18">Rad51c</text>
<text x="373.3" y="241.1" font-size="4.3" text-anchor="middle" fill="#222" stroke="#222" stroke-width="0.18">Bhmt</text>
<text x="389.8" y="229.3" font-size="4.3" text-anchor="middle" fill="#222" stroke="#222" stroke-width="0.18">Selenbp2</text>
<text x="390.3" y="245.4" font-size="4.3" text-anchor="middle" fill="#222" stroke="#222" stroke-width="0.18">Cables1</text>
<text x="362.9" y="249.2" font-size="4.3" fill="#222" stroke="#222" stroke-width="0.18">Cnt8</text>
<text x="406.8" y="234.1" font-size="4.3" text-anchor="middle" fill="#222" stroke="#222" stroke-width="0.18">Thsd4</text>
<text x="406.2" y="249.3" font-size="4.3" text-anchor="middle" fill="#222" stroke="#222" stroke-width="0.18">Sik2</text>
<text x="512.0" y="303.8" font-size="4.3" text-anchor="middle" fill="#222" stroke="#222" stroke-width="0.18">Cd36</text>
<text x="489.4" y="314.3" font-size="4.3" fill="#222" stroke="#222" stroke-width="0.18">Acss3</text>
<text x="503.5" y="318.9" font-size="4.3" fill="#222" stroke="#222" stroke-width="0.18">Acss2</text>
<text x="442.0" y="331.7" font-size="4.3" fill="#222" stroke="#222" stroke-width="0.18">Cyp7a1</text>
<text x="461.5" y="335.8" font-size="4.3" fill="#222" stroke="#222" stroke-width="0.18">Cyp2c38</text>
<text x="486.4" y="339.2" font-size="4.3" fill="#222" stroke="#222" stroke-width="0.18">Acot3</text>
<text x="513.5" y="336.7" font-size="4.3" text-anchor="middle" fill="#222" stroke="#222" stroke-width="0.18">Slc16a5</text>
<text x="426.0" y="340.0" font-size="4.3" text-anchor="middle" fill="#222" stroke="#222" stroke-width="0.18">Cyp17a1</text>
<text x="406.7" y="349.9" font-size="4.3" text-anchor="middle" fill="#222" stroke="#222" stroke-width="0.18">Cyp2u1</text>
<text x="443.7" y="349.8" font-size="4.3" text-anchor="end" fill="#222" stroke="#222" stroke-width="0.18">Cyp2d9</text>
<text x="457.8" y="345.1" font-size="4.3" fill="#222" stroke="#222" stroke-width="0.18">Cyp3a11</text>
<text x="441.9" y="360.1" font-size="4.3" text-anchor="end" fill="#222" stroke="#222" stroke-width="0.18">Cyp2c55</text>
<text x="470.8" y="356.5" font-size="4.3" fill="#222" stroke="#222" stroke-width="0.18">Cyp2a4</text>
<text x="491.3" y="355.0" font-size="4.3" fill="#222" stroke="#222" stroke-width="0.18">Cyp2e1</text>
<text x="491.5" y="364.7" font-size="4.3" fill="#222" stroke="#222" stroke-width="0.18">Ugt2b38</text>
<text x="477.4" y="366.3" font-size="4.3" fill="#222" stroke="#222" stroke-width="0.18">Ugt2b37</text>
<text x="453.0" y="371.1" font-size="4.3" text-anchor="end" fill="#222" stroke="#222" stroke-width="0.18">Cyp4a14</text>
<text x="469.6" y="377.1" font-size="4.3" text-anchor="middle" fill="#222" stroke="#222" stroke-width="0.18">Ugt1a5</text>
<text x="502.4" y="378.3" font-size="4.3" fill="#222" stroke="#222" stroke-width="0.18">Abcb1a</text>
<text x="518.2" y="368.7" font-size="4.3" text-anchor="middle" fill="#222" stroke="#222" stroke-width="0.18">Ces2b</text>
<text x="480.9" y="385.9" font-size="4.3" fill="#222" stroke="#222" stroke-width="0.18">Sult1e1</text>
<text x="446.8" y="386.3" font-size="4.3" text-anchor="middle" fill="#222" stroke="#222" stroke-width="0.18">Cyp2b10</text>
<text x="429.5" y="381.4" font-size="4.3" text-anchor="middle" fill="#222" stroke="#222" stroke-width="0.18">Gstp1</text>
<text x="420.5" y="358.4" font-size="4.3" text-anchor="end" fill="#222" stroke="#222" stroke-width="0.18">Gstt3</text>
<text x="397.4" y="367.3" font-size="4.3" text-anchor="middle" fill="#222" stroke="#222" stroke-width="0.18">Slc22a26</text>
<text x="385.2" y="388.5" font-size="4.3" text-anchor="middle" fill="#222" stroke="#222" stroke-width="0.18">Has2</text>
<text x="368.9" y="379.2" font-size="4.3" text-anchor="middle" fill="#222" stroke="#222" stroke-width="0.18">Ecl3</text>
<text x="405.5" y="382.6" font-size="4.3" fill="#222" stroke="#222" stroke-width="0.18">Acot1</text>
<ellipse cx="296.3" cy="398.3" rx="2.7" ry="2.5" fill="url(#nM)" stroke="#62b48a" stroke-width="0.35"/>
<text x="300.6" y="400.1" font-size="5.15" textLength="115.2" lengthAdjust="spacingAndGlyphs" fill="#222" stroke="#222" stroke-width="0.18">Cholesterol metabolism and acute phase response</text>
<ellipse cx="296.3" cy="406.3" rx="2.7" ry="2.5" fill="url(#nC)" stroke="#367f9e" stroke-width="0.35"/>
<text x="300.6" y="408.1" font-size="5.15" textLength="87.5" lengthAdjust="spacingAndGlyphs" fill="#222" stroke="#222" stroke-width="0.18">Cell proliferation and mitotic processes</text>
<ellipse cx="296.3" cy="413.6" rx="2.7" ry="2.5" fill="url(#nP)" stroke="#6c6cc4" stroke-width="0.35"/>
<text x="300.6" y="415.4" font-size="5.15" textLength="64.6" lengthAdjust="spacingAndGlyphs" fill="#222" stroke="#222" stroke-width="0.18">TGF-beta signaling pathway</text>
<ellipse cx="423.6" cy="398.6" rx="2.7" ry="2.5" fill="url(#nY)" stroke="#c0a868" stroke-width="0.35"/>
<text x="427.9" y="400.4" font-size="5.15" textLength="94.1" lengthAdjust="spacingAndGlyphs" fill="#222" stroke="#222" stroke-width="0.18">Glycine, serine and threonine metabolism</text>
<ellipse cx="423.6" cy="406.0" rx="2.7" ry="2.5" fill="url(#nG)" stroke="#5ea844" stroke-width="0.35"/>
<text x="427.9" y="407.8" font-size="5.15" textLength="113.5" lengthAdjust="spacingAndGlyphs" fill="#222" stroke="#222" stroke-width="0.18">Epoxygenase p450 and drug metabolic processes</text>
<ellipse cx="423.6" cy="413.2" rx="2.7" ry="2.5" fill="url(#nR)" stroke="#b84040" stroke-width="0.35"/>
<text x="427.9" y="415.0" font-size="5.15" textLength="94.1" lengthAdjust="spacingAndGlyphs" fill="#222" stroke="#222" stroke-width="0.18">Retinol and steroid hormone biosynthesis</text>
</svg></body></html>
